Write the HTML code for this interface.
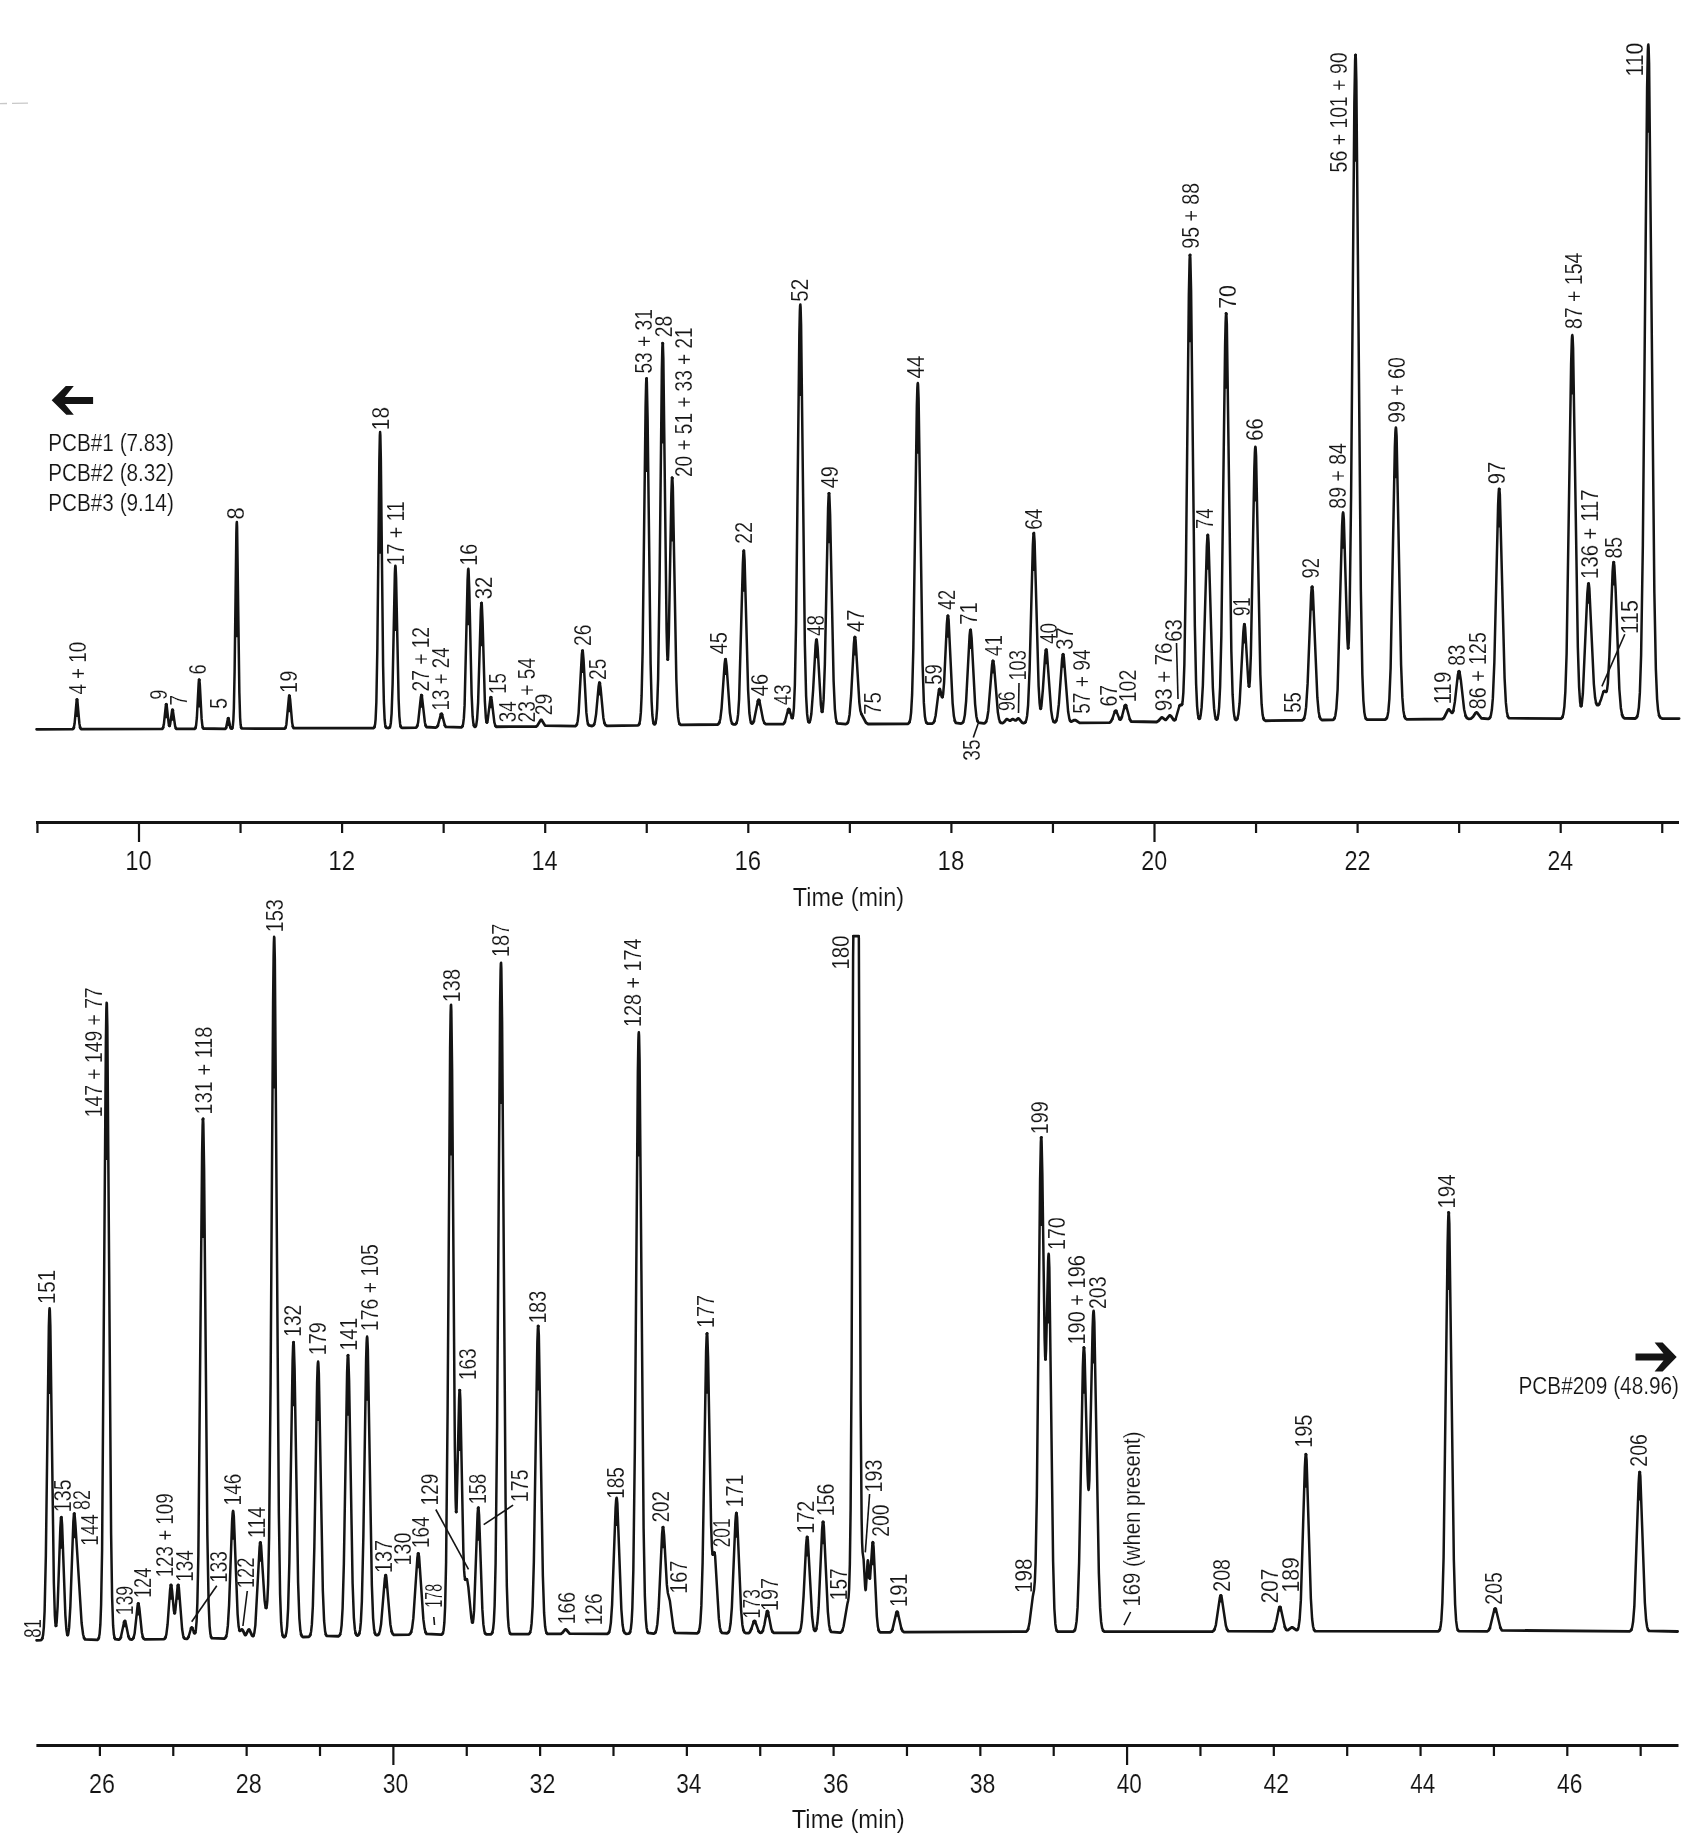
<!DOCTYPE html><html><head><meta charset="utf-8"><style>html,body{margin:0;padding:0;background:#fff;overflow:hidden;width:1703px;height:1836px}svg{display:block;filter:grayscale(1)}text{font-family:"Liberation Sans", sans-serif;fill:#141414;stroke:#fff;stroke-width:0.15px}</style></head><body>
<svg width="1703" height="1836" viewBox="0 0 1703 1836">
<rect width="1703" height="1836" fill="#fff"/>
<path d="M0 103.6 L7 103.5 M12 103.4 L28 103.2" stroke="#c8c8c8" stroke-width="1.3" fill="none"/>
<path d="M36.60 729.30 L72.60 729.12 L73.35 728.60 L73.85 727.54M76.85 699.59 L77.10 699.49M80.10 727.37 L80.60 728.52 L81.35 729.09 L161.85 728.96 L162.60 728.49 L163.10 727.58M166.10 704.37 L166.35 704.12 L166.60 704.71M169.10 725.38 L169.35 725.88 L169.60 725.91M172.35 709.82 L172.60 709.75 L172.85 710.34M175.85 728.16 L176.60 728.84 L194.60 728.84 L195.10 728.48 L195.60 727.54M199.10 679.73 L199.35 679.90M202.85 727.66 L203.35 728.52 L225.10 728.82 L225.60 728.51 L226.10 727.67M228.10 718.29 L228.35 718.11 L228.60 718.52M230.35 727.24 L230.85 728.30 L231.35 728.68 L231.85 728.59 L232.35 727.86M241.10 727.41 L241.60 728.46 L284.35 728.72 L285.10 728.31 L285.60 727.54M289.35 695.62 L289.60 695.90M292.85 726.53 L293.60 728.18 L373.35 728.10 L374.10 727.62 L374.60 726.62M385.60 726.53 L386.10 727.53 L388.60 728.02 L389.35 727.73 L389.85 727.14M400.60 726.23 L401.10 727.28 L402.10 727.89 L415.85 727.66 L416.60 727.13 L417.35 725.70M421.35 695.12 L421.60 695.05 L421.85 695.63M425.60 725.49 L426.35 726.99 L435.85 727.58 L436.85 727.09 L437.85 725.61M440.85 714.23 L441.35 713.61 L441.60 713.68 L442.10 714.60M444.85 725.32 L445.85 726.93 L461.35 727.35 L462.10 726.86 L462.60 725.99M473.85 725.45 L474.35 726.47 L474.85 726.80 L475.35 726.63 L475.85 725.90M481.35 603.29 L481.60 603.07M486.60 722.17 L486.85 722.50 L487.10 722.36M490.60 697.51 L490.85 697.11 L491.10 697.28M495.35 725.74 L496.10 726.73 L536.10 726.49 L537.35 725.65 L540.60 720.11 L541.10 719.81 L541.60 719.93 L545.10 725.61 L575.35 726.08 L576.10 725.60 L576.85 724.35M582.35 650.70 L582.60 650.59M588.10 724.08 L588.85 725.40 L592.10 726.00 L593.35 725.44 L594.10 724.39M599.35 682.71 L599.60 682.65 L599.85 683.18M604.35 722.79 L605.35 724.98 L606.85 725.81 L637.85 725.38 L638.60 724.96 L639.35 723.70M646.35 378.90 L646.60 378.45M653.60 723.29 L654.10 724.19 L654.60 724.38 L655.10 723.96 L655.60 722.76M662.60 343.19 L662.85 343.64M667.60 659.35 L667.85 659.46M672.10 477.73 L672.35 478.06M679.60 723.90 L680.60 724.79 L717.60 724.49 L718.60 723.82 L719.35 722.54M725.35 659.33 L725.60 659.26M732.10 723.37 L733.10 724.30 L734.85 724.48 L735.85 723.95 L736.60 722.77M743.60 551.31 L743.85 550.74M751.10 722.76 L751.60 723.40 L752.10 723.56 L752.85 723.11 L753.85 721.21M757.85 701.19 L758.35 699.96 L758.60 699.72 L758.85 699.75 L759.35 700.58M764.35 722.91 L765.60 724.11 L782.85 724.22 L783.85 723.59 L784.85 721.96M788.10 709.78 L788.60 708.98 L788.85 708.90 L789.35 709.42M791.85 717.82 L792.10 718.16 L792.35 718.21 L792.60 717.91M808.35 721.58 L808.85 722.34 L809.10 722.41 L809.60 722.01M816.35 639.75 L816.60 639.67M821.85 711.50 L822.10 711.90 L822.35 711.67M828.85 493.61 L829.10 493.38M836.60 721.84 L837.35 723.31 L845.85 724.07 L847.10 723.46 L847.85 722.41M854.60 637.62 L854.85 637.02 L855.10 637.26M861.35 713.95 L866.10 722.79 L868.10 723.98 L907.85 723.77 L908.85 723.17 L909.60 721.87M926.35 722.54 L927.35 723.53 L932.10 723.65 L933.35 722.89 L934.35 721.08M939.10 689.74 L939.35 689.17 L939.60 688.96 L939.85 689.10M941.85 696.55 L942.10 697.07 L942.35 697.19 L942.60 696.86M947.85 615.72 L948.10 616.03M954.85 720.82 L955.85 722.77 L961.10 723.56 L962.35 723.00 L963.10 722.06M970.35 629.96 L970.60 629.87M977.35 720.71 L978.35 722.63 L983.85 723.45 L985.10 722.93 L986.10 721.66M992.85 660.90 L993.10 660.85 L993.35 661.36M1000.10 721.94 L1001.10 722.95 L1002.60 723.13 L1004.10 722.14 L1006.35 719.38 L1007.10 719.10 L1009.60 720.66 L1010.35 720.59 L1012.35 719.16 L1013.10 719.17 L1015.10 720.44 L1015.85 720.35 L1018.10 718.44 L1018.85 718.56 L1022.10 722.64 L1023.60 723.16 L1024.85 722.77 L1025.60 721.87M1033.60 533.65 L1033.85 533.13M1040.35 708.33 L1040.60 708.73 L1040.85 708.54M1045.85 650.24 L1046.10 649.65 L1046.35 649.72M1053.35 721.27 L1054.10 722.17 L1054.85 722.34 L1055.60 721.83 L1056.35 720.48M1062.85 654.61 L1063.10 654.30 L1063.35 654.60M1070.10 720.68 L1070.85 721.50 L1071.60 721.57 L1074.35 720.04 L1075.60 720.25 L1079.60 722.83 L1109.60 722.59 L1110.85 721.71 L1112.35 718.88M1114.85 711.47 L1115.35 710.75 L1115.85 710.62 L1116.35 711.09M1119.35 718.91 L1119.85 719.50 L1120.35 719.62 L1120.85 719.23 L1121.85 716.95M1124.60 706.22 L1125.10 705.25 L1125.35 705.04 L1125.60 705.01 L1126.10 705.54M1129.85 719.26 L1131.10 721.48 L1156.60 722.02 L1158.60 720.72 L1161.35 717.61 L1162.10 717.40 L1165.35 719.78 L1166.10 719.74 L1169.35 715.67 L1170.10 715.41 L1170.85 715.85 L1173.60 719.89 L1174.35 720.29 L1174.85 720.15 L1175.60 719.25M1179.35 706.00 L1179.85 705.14 L1180.35 704.87 L1181.35 705.20 L1181.60 705.15 L1182.10 704.32M1189.85 255.31 L1190.10 254.91M1198.60 717.93 L1199.10 718.83 L1199.35 718.90 L1199.85 718.36M1207.60 535.50 L1207.85 535.03M1215.85 718.78 L1216.35 719.50 L1216.60 719.60 L1217.10 719.30 L1217.60 718.22M1226.10 313.47 L1226.35 313.81M1235.10 719.02 L1235.60 719.81 L1236.10 720.06 L1236.60 719.84 L1237.35 718.61M1244.35 624.22 L1244.60 624.46M1248.85 686.18 L1249.10 686.49M1263.35 718.18 L1264.10 719.83 L1265.35 720.73 L1302.10 720.26 L1303.35 719.48 L1304.10 718.25M1311.85 587.14 L1312.10 586.60 L1312.35 587.13M1319.60 716.69 L1320.60 719.02 L1321.85 720.01 L1332.85 719.95 L1333.85 719.28 L1334.60 718.05M1348.10 648.25 L1348.35 647.90M1355.35 55.35 L1355.60 54.88M1365.85 718.46 L1366.85 719.50 L1385.10 719.55 L1386.10 718.99 L1386.85 717.92M1404.35 716.09 L1405.35 718.43 L1406.85 719.40 L1442.35 718.98 L1443.85 718.01 L1447.85 710.06 L1448.60 709.42 L1449.10 709.48 L1451.60 712.77 L1452.10 712.94 L1452.60 712.57 L1453.35 710.74M1458.60 671.66 L1458.85 671.27 L1459.10 671.23 L1459.60 672.23M1465.60 715.71 L1466.85 717.99 L1468.85 718.97 L1471.10 718.60 L1473.10 716.66 L1475.60 712.86 L1476.35 712.41 L1477.10 712.60 L1481.35 718.24 L1488.10 718.95 L1489.35 718.38 L1490.10 717.42M1499.10 488.94 L1499.35 489.11M1507.85 716.35 L1508.85 718.14 L1560.60 718.70 L1561.85 717.93 L1562.60 716.68M1580.85 706.02 L1581.10 706.20 L1581.35 705.87M1588.35 583.71 L1588.60 583.54M1596.10 702.99 L1596.85 704.69 L1597.35 705.15 L1598.10 705.16 L1599.10 704.21M1603.35 691.94 L1603.85 691.22 L1604.35 691.00 L1605.85 691.91 L1606.10 691.89 L1606.60 691.23M1613.60 562.28 L1613.85 562.39M1622.10 714.84 L1623.10 717.21 L1624.60 718.43 L1635.10 718.48 L1636.35 717.73 L1637.10 716.53M1659.10 715.39 L1660.10 717.49 L1662.10 718.53 L1679.10 718.60" fill="none" stroke="#141414" stroke-width="2.80" stroke-linejoin="round" stroke-linecap="round"/><path d="M73.85 727.54 L74.60 723.60 L76.60 700.75 L76.85 699.59M77.10 699.49 L77.35 700.44 L79.35 723.19 L80.10 727.37M163.10 727.58 L163.85 724.30 L165.85 705.46 L166.10 704.37M166.60 704.71 L168.60 722.97 L169.10 725.38M169.60 725.91 L170.10 724.62 L172.10 710.53 L172.35 709.82M172.85 710.34 L175.10 726.03 L175.85 728.16M195.60 727.54 L196.10 725.36 L196.85 717.97 L198.60 684.20 L198.85 681.22 L199.10 679.73M199.35 679.90 L199.85 684.95 L201.60 718.65 L202.35 725.65 L202.85 727.66M226.10 727.67 L227.85 719.03 L228.10 718.29M228.60 718.52 L230.35 727.24M232.35 727.86 L232.85 725.68 L233.35 720.24 L233.85 708.54 L234.60 671.88 L236.35 532.68 L236.60 524.00 L236.85 521.94 L237.10 526.71 L239.35 692.28 L240.10 717.53 L240.60 724.49 L241.10 727.41M285.60 727.54 L286.35 724.73 L288.85 697.79 L289.10 696.27 L289.35 695.62M289.60 695.90 L290.10 699.07 L292.10 722.37 L292.85 726.53M374.60 726.62 L375.10 724.28 L375.60 719.28 L376.35 702.19 L377.35 648.15 L379.35 459.55 L379.85 435.29 L380.10 432.10 L380.35 435.28 L380.85 459.54 L383.10 665.72 L383.85 702.13 L384.60 719.21 L385.10 724.20 L385.60 726.53M389.85 727.14 L390.35 725.79 L390.85 722.97 L391.60 713.54 L392.60 684.26 L394.85 573.62 L395.10 568.03 L395.35 565.67 L395.60 566.68 L396.10 578.37 L398.60 698.69 L399.35 716.04 L400.10 723.96 L400.60 726.23M417.35 725.70 L418.10 722.57 L420.85 697.12 L421.35 695.12M421.85 695.63 L424.85 722.23 L425.60 725.49M437.85 725.61 L440.85 714.23M442.10 714.60 L444.85 725.32M462.60 725.99 L463.10 724.20 L463.85 718.19 L464.60 705.15 L467.60 579.47 L468.10 569.61 L468.35 568.76 L468.60 570.73 L469.35 591.89 L471.60 694.07 L472.60 716.19 L473.35 723.29 L473.85 725.45M475.85 725.90 L476.35 724.30 L477.10 719.02 L478.10 702.56 L480.85 610.03 L481.35 603.29M481.60 603.07 L481.85 605.01 L482.60 622.22 L484.85 701.19 L485.85 717.80 L486.35 721.32 L486.60 722.17M487.10 722.36 L487.60 720.82 L490.35 698.46 L490.60 697.51M491.10 697.28 L491.60 699.26 L494.35 722.28 L495.35 725.74M576.85 724.35 L577.60 721.48 L578.60 713.08 L581.85 654.10 L582.35 650.70M582.60 650.59 L582.85 651.55 L583.60 660.32 L586.35 712.38 L587.35 721.08 L588.10 724.08M594.10 724.39 L594.85 722.16 L596.10 714.08 L598.60 686.36 L599.10 683.37 L599.35 682.71M599.85 683.18 L600.60 688.06 L603.35 717.64 L604.35 722.79M639.35 723.70 L640.10 720.32 L640.85 712.38 L641.60 695.92 L642.60 652.53 L645.60 405.81 L646.10 383.76 L646.35 378.90M646.60 378.45 L646.85 382.43 L647.60 418.64 L650.60 663.48 L651.60 701.29 L652.35 714.99 L653.10 721.34 L653.60 723.29M655.60 722.76 L656.35 718.47 L657.10 708.58 L658.10 679.01 L659.60 578.71 L661.85 369.44 L662.35 347.47 L662.60 343.19M662.85 343.64 L663.35 358.50 L666.60 629.99 L667.10 650.53 L667.35 656.40 L667.60 659.35M667.85 659.46 L668.10 656.82 L668.85 634.14 L671.35 494.29 L671.85 480.42 L672.10 477.73M672.35 478.06 L672.85 487.59 L676.35 679.45 L677.35 706.76 L678.10 716.95 L678.85 721.83 L679.60 723.90M719.35 722.54 L720.35 718.69 L721.60 708.03 L724.60 663.80 L725.10 660.14 L725.35 659.33M725.60 659.26 L725.85 659.92 L726.60 665.95 L729.85 712.73 L731.10 720.77 L732.10 723.37M736.60 722.77 L737.35 720.05 L738.10 714.45 L739.10 699.37 L742.85 563.88 L743.35 553.75 L743.60 551.31M743.85 550.74 L744.10 552.06 L744.60 560.15 L748.10 690.00 L749.35 712.78 L750.35 720.43 L751.10 722.76M753.85 721.21 L757.85 701.19M759.35 700.58 L763.10 719.78 L764.35 722.91M784.85 721.96 L788.10 709.78M789.35 709.42 L791.85 717.82M792.60 717.91 L793.10 716.01 L793.85 708.58 L794.85 685.18 L796.10 621.95 L799.35 333.65 L799.85 311.15 L800.10 305.74 L800.35 304.48 L800.60 307.41 L801.10 325.36 L804.85 644.20 L806.10 695.87 L807.10 713.90 L807.85 719.75 L808.35 721.58M809.60 722.01 L810.35 720.02 L811.35 714.02 L813.10 690.51 L815.60 644.88 L816.10 640.67 L816.35 639.75M816.60 639.67 L816.85 640.42 L817.60 647.35 L820.85 704.24 L821.60 710.51 L821.85 711.50M822.35 711.67 L822.85 709.19 L823.60 699.64 L824.85 664.64 L828.10 507.52 L828.60 496.10 L828.85 493.61M829.10 493.38 L829.35 495.42 L830.10 514.25 L833.60 680.79 L834.85 708.76 L835.85 718.57 L836.60 721.84M847.85 722.41 L848.60 720.27 L849.60 714.46 L851.10 695.95 L853.85 644.20 L854.35 639.05 L854.60 637.62M855.10 637.26 L855.60 640.23 L859.35 702.60 L860.35 710.54 L861.35 713.95M909.60 721.87 L910.35 718.89 L911.10 712.62 L912.10 694.94 L913.35 648.00 L916.85 405.47 L917.35 388.10 L917.60 383.93 L917.85 382.96 L918.10 385.22 L918.60 399.06 L922.60 664.49 L923.85 702.65 L924.85 716.02 L925.60 720.50 L926.35 722.54M934.35 721.08 L935.60 715.76 L938.60 691.93 L939.10 689.74M939.85 689.10 L940.60 691.27 L941.85 696.55M942.60 696.86 L943.10 694.54 L944.10 682.54 L946.85 624.10 L947.35 618.06 L947.60 616.40 L947.85 615.72M948.10 616.03 L948.60 619.62 L952.60 703.06 L953.85 716.10 L954.85 720.82M963.10 722.06 L963.85 720.14 L964.85 714.86 L966.10 701.31 L969.60 635.27 L970.10 630.91 L970.35 629.96M970.60 629.87 L970.85 630.65 L971.60 637.84 L975.10 704.06 L976.35 716.19 L977.35 720.71M986.10 721.66 L987.10 718.69 L988.35 710.72 L992.10 664.42 L992.60 661.53 L992.85 660.90M993.35 661.36 L994.10 666.12 L997.85 712.34 L999.10 719.41 L1000.10 721.94M1025.60 721.87 L1026.35 719.89 L1027.10 715.88 L1028.10 705.07 L1029.60 670.01 L1032.85 545.09 L1033.35 535.86 L1033.60 533.65M1033.85 533.13 L1034.10 534.33 L1034.60 541.67 L1038.60 685.99 L1039.60 703.22 L1040.10 707.30 L1040.35 708.33M1040.85 708.54 L1041.35 706.53 L1042.85 689.82 L1045.10 655.71 L1045.60 651.47 L1045.85 650.24M1046.35 649.72 L1046.85 651.80 L1051.10 710.07 L1052.35 718.33 L1053.35 721.27M1056.35 720.48 L1057.35 716.65 L1058.85 704.16 L1062.10 659.04 L1062.60 655.52 L1062.85 654.61M1063.35 654.60 L1063.85 657.00 L1068.10 711.50 L1069.35 718.71 L1070.10 720.68M1112.35 718.88 L1114.85 711.47M1116.35 711.09 L1119.35 718.91M1121.85 716.95 L1124.60 706.22M1126.10 705.54 L1129.85 719.26M1175.60 719.25 L1179.35 706.00M1182.10 704.32 L1182.60 701.82 L1183.35 692.76 L1184.35 665.04 L1185.85 575.04 L1188.85 294.47 L1189.60 259.62 L1189.85 255.31M1190.10 254.91 L1190.35 258.44 L1191.10 291.20 L1194.85 626.14 L1196.10 683.76 L1197.10 706.09 L1197.85 714.20 L1198.60 717.93M1199.85 718.36 L1200.60 715.69 L1201.60 707.43 L1202.85 685.49 L1206.85 545.95 L1207.35 537.52 L1207.60 535.50M1207.85 535.03 L1208.10 536.12 L1208.60 542.82 L1212.85 687.72 L1214.10 708.44 L1215.10 716.17 L1215.85 718.78M1217.60 718.22 L1218.35 714.59 L1219.10 707.12 L1220.10 687.00 L1221.35 635.88 L1225.10 344.73 L1225.60 322.85 L1225.85 316.51 L1226.10 313.47M1226.35 313.81 L1226.85 324.49 L1231.35 651.22 L1232.60 694.45 L1233.60 710.56 L1234.35 716.30 L1235.10 719.02M1237.35 718.61 L1238.35 714.55 L1239.60 703.23 L1243.35 631.75 L1243.85 626.35 L1244.10 624.85 L1244.35 624.22M1244.60 624.46 L1245.10 627.52 L1248.35 682.72 L1248.85 686.18M1249.10 686.49 L1249.35 685.76 L1249.85 680.81 L1250.85 655.54 L1254.35 467.69 L1254.85 452.56 L1255.10 448.38 L1255.35 446.65 L1255.60 447.40 L1256.10 456.20 L1260.35 674.77 L1261.60 704.20 L1262.60 714.63 L1263.35 718.18M1304.10 718.25 L1305.10 714.67 L1306.10 707.13 L1307.60 683.89 L1311.10 594.92 L1311.60 588.73 L1311.85 587.14M1312.35 587.13 L1312.85 591.33 L1317.35 697.48 L1318.60 711.42 L1319.60 716.69M1334.60 718.05 L1335.35 715.55 L1336.35 708.57 L1337.60 689.56 L1342.10 525.22 L1342.60 515.72 L1342.85 513.25 L1343.10 512.40 L1343.35 513.17 L1343.85 519.47 L1347.35 638.91 L1347.85 646.77 L1348.10 648.25M1348.35 647.90 L1348.85 641.22 L1349.60 614.61 L1351.10 496.18 L1354.35 102.87 L1355.10 60.55 L1355.35 55.35M1355.60 54.88 L1355.85 59.14 L1356.35 81.41 L1360.85 590.20 L1362.35 674.33 L1363.35 700.24 L1364.35 712.35 L1365.10 716.49 L1365.85 718.46M1386.85 717.92 L1387.60 715.65 L1388.35 711.18 L1389.35 699.24 L1390.60 668.44 L1394.85 446.80 L1395.35 432.93 L1395.60 429.13 L1395.85 427.55 L1396.10 428.22 L1396.60 436.23 L1401.10 664.90 L1402.35 697.41 L1403.35 710.22 L1404.35 716.09M1453.35 710.74 L1454.85 701.88 L1457.85 674.88 L1458.60 671.66M1459.60 672.23 L1460.85 680.16 L1464.10 709.19 L1465.60 715.71M1490.10 717.42 L1490.85 715.44 L1491.85 709.81 L1492.85 698.13 L1494.35 662.20 L1498.10 504.78 L1498.60 493.68 L1498.85 490.47 L1499.10 488.94M1499.35 489.11 L1499.85 494.51 L1504.60 678.37 L1505.85 702.43 L1506.85 711.95 L1507.85 716.35M1562.60 716.68 L1563.35 714.11 L1564.35 706.81 L1565.35 691.58 L1566.60 654.01 L1571.10 364.09 L1571.85 339.23 L1572.10 335.84 L1572.35 335.05 L1572.60 336.88 L1573.10 348.21 L1577.85 647.40 L1579.10 687.11 L1580.10 702.06 L1580.60 705.29 L1580.85 706.02M1581.35 705.87 L1581.85 703.72 L1582.85 693.73 L1587.35 593.02 L1588.10 584.77 L1588.35 583.71M1588.60 583.54 L1588.85 584.26 L1589.35 588.30 L1593.85 684.00 L1595.10 697.77 L1596.10 702.99M1599.10 704.21 L1601.10 699.18 L1603.35 691.94M1606.60 691.23 L1607.10 689.36 L1607.85 683.37 L1609.35 657.10 L1612.60 571.69 L1613.10 565.08 L1613.35 563.18 L1613.60 562.28M1613.85 562.39 L1614.35 565.64 L1615.60 589.15 L1619.35 689.26 L1620.85 707.94 L1622.10 714.84M1637.10 716.53 L1637.85 714.13 L1638.85 707.33 L1639.85 692.91 L1641.10 655.64 L1642.85 545.24 L1647.10 87.45 L1647.85 50.71 L1648.10 45.73 L1648.35 44.58 L1648.60 47.27 L1649.10 63.93 L1654.35 592.13 L1655.85 668.86 L1657.10 699.09 L1658.10 710.29 L1659.10 715.39" fill="none" stroke="#141414" stroke-width="2.50" stroke-linejoin="round" stroke-linecap="round"/>
<path d="M36.60 1640.30 L40.85 1640.09 L41.60 1639.63 L42.35 1638.30M55.85 1625.85 L56.10 1625.77M61.10 1517.77 L61.35 1517.33M67.35 1634.79 L67.60 1635.07 L67.85 1634.94M74.10 1513.78 L74.35 1513.58M84.10 1637.96 L85.10 1639.41 L97.35 1639.82 L98.10 1639.33 L98.85 1637.88M114.60 1637.88 L115.35 1639.22 L118.60 1639.69 L119.85 1639.04 L120.85 1637.35M124.10 1622.08 L124.60 1621.00 L124.85 1620.91 L125.10 1621.12M128.35 1636.10 L129.35 1638.46 L130.35 1639.35 L131.85 1639.49 L132.85 1638.90 L133.60 1637.59M138.10 1603.59 L138.35 1603.41 L138.60 1603.82M142.85 1637.09 L143.60 1638.61 L144.85 1639.41 L163.85 1639.17 L164.85 1638.53 L165.60 1637.19M170.85 1585.07 L171.10 1584.93 L171.35 1585.50M174.35 1612.98 L174.60 1613.30 L174.85 1612.96M177.85 1585.50 L178.10 1584.93 L178.35 1585.07M183.85 1637.54 L184.85 1638.73 L186.60 1638.95 L187.60 1638.40 L188.60 1636.74M191.10 1628.16 L191.60 1627.44 L191.85 1627.41 L192.35 1627.98M194.10 1632.76 L194.60 1633.39 L194.85 1633.37 L195.35 1632.43M202.85 1119.40 L203.10 1118.84M211.10 1636.92 L211.85 1638.21 L224.35 1638.53 L225.35 1637.86 L226.10 1636.53M239.35 1630.12 L239.85 1630.87 L240.35 1630.74 L241.60 1629.46 L242.10 1629.43 L242.85 1630.32 L244.85 1634.68 L245.35 1635.09 L245.85 1634.96 L248.35 1629.89 L248.85 1629.43 L249.35 1629.55 L252.10 1635.56 L252.60 1636.08 L253.10 1636.07 L253.60 1635.40M260.10 1542.95 L260.35 1542.35 L260.60 1542.65M265.85 1607.84 L266.10 1608.06 L266.35 1607.80M282.60 1635.24 L283.35 1636.78 L284.10 1637.17 L284.85 1636.85 L285.60 1635.61M293.35 1342.53 L293.60 1342.23M301.10 1634.36 L301.85 1636.15 L302.85 1636.99 L308.60 1636.92 L309.60 1636.22 L310.35 1634.76M325.85 1634.40 L326.60 1635.83 L338.35 1636.26 L339.35 1635.66 L340.10 1634.37M347.85 1355.60 L348.10 1355.32M355.60 1633.10 L356.35 1634.85 L357.10 1635.48 L357.85 1635.50 L358.60 1634.92 L359.35 1633.30M374.85 1632.95 L375.60 1634.54 L376.60 1635.21 L377.85 1635.01 L378.85 1633.98M385.35 1575.69 L385.60 1575.15 L385.85 1575.20M391.60 1631.29 L392.60 1633.74 L393.85 1634.82 L408.85 1634.70 L410.10 1633.89 L411.10 1632.08M418.10 1553.61 L418.35 1553.41 L418.60 1553.87M425.60 1632.27 L426.60 1633.92 L441.35 1634.66 L442.10 1634.29 L442.85 1633.19M456.10 1511.70 L456.35 1511.99M459.60 1390.21 L459.85 1390.33M465.10 1579.28 L465.35 1579.70 L465.60 1579.75 L466.35 1579.16 L466.60 1579.13 L466.85 1579.33M472.10 1622.13 L472.35 1622.62 L472.60 1622.63 L472.85 1622.13M478.10 1508.09 L478.35 1507.63M485.10 1633.23 L486.10 1634.27 L490.60 1634.42 L491.60 1633.83 L492.35 1632.47M510.10 1633.35 L511.10 1634.22 L528.35 1634.22 L529.35 1633.63 L530.10 1632.37M538.10 1325.94 L538.35 1326.23M546.60 1632.93 L547.60 1633.96 L560.85 1633.97 L562.60 1632.69 L564.85 1629.73 L565.60 1629.40 L566.35 1629.73 L569.60 1633.57 L607.35 1633.82 L608.35 1633.24 L609.10 1632.10M623.60 1630.62 L624.60 1632.88 L626.10 1633.79 L628.60 1633.70 L629.35 1633.21 L630.10 1631.93M647.35 1631.42 L648.10 1632.96 L653.60 1633.68 L654.85 1633.09 L655.60 1632.07M662.85 1527.34 L663.10 1527.13M674.35 1631.33 L675.35 1632.96 L697.10 1633.41 L698.10 1632.80 L698.85 1631.50M706.85 1333.86 L707.10 1333.48M712.60 1554.09 L712.85 1554.71 L713.10 1554.67 L714.10 1552.48 L714.35 1552.45 L714.60 1552.94M720.85 1631.32 L721.85 1632.86 L727.10 1633.25 L728.10 1632.72 L728.85 1631.69M736.35 1513.02 L736.60 1513.36M743.35 1630.02 L744.35 1632.25 L745.85 1633.18 L748.60 1633.02 L749.85 1632.07 L751.35 1628.97M753.60 1621.84 L754.10 1621.01 L754.60 1620.81 L755.10 1621.27M758.60 1631.18 L759.85 1632.62 L760.85 1632.85 L761.85 1632.37 L762.85 1630.78M767.10 1611.21 L767.35 1611.01 L767.60 1611.09 L768.10 1612.13M772.35 1631.55 L773.60 1632.81 L798.10 1632.82 L799.10 1632.26 L799.85 1631.22M807.10 1536.97 L807.35 1537.06M814.10 1629.75 L814.60 1630.67 L815.10 1630.95 L815.60 1630.60 L816.35 1628.79M822.85 1522.21 L823.10 1521.70 L823.35 1522.21M830.10 1629.80 L831.10 1631.84 L840.10 1632.64 L841.35 1631.99 L842.35 1630.49M853.35 936.20 L858.60 936.20M869.60 1578.10 L869.85 1578.51M872.60 1542.83 L872.85 1542.22 L873.10 1542.75M878.60 1630.07 L879.35 1631.66 L880.60 1632.44 L890.10 1632.29 L891.35 1631.51 L892.35 1629.87M896.35 1612.65 L896.85 1611.72 L897.10 1611.60 L897.35 1611.72 L897.85 1612.65M901.35 1628.47 L902.60 1631.15 L904.10 1632.21 L1026.10 1631.64 L1027.10 1630.96 L1028.10 1629.10M1041.10 1137.71 L1041.35 1137.42M1045.35 1359.26 L1045.60 1359.29M1056.85 1630.75 L1057.85 1631.63 L1073.10 1631.64 L1074.10 1631.08 L1074.85 1630.01M1083.85 1347.50 L1084.10 1347.83M1103.10 1630.58 L1104.35 1631.57 L1212.35 1631.51 L1213.60 1630.75 L1214.60 1629.20M1220.35 1595.90 L1220.60 1595.50 L1220.85 1595.41 L1221.10 1595.62M1227.10 1629.41 L1228.35 1631.05 L1271.85 1631.44 L1273.10 1630.68 L1274.35 1628.70M1279.35 1607.31 L1279.85 1606.80 L1280.10 1606.87 L1280.60 1607.62M1284.85 1626.92 L1286.10 1629.52 L1286.85 1630.10 L1287.85 1630.06 L1291.35 1627.52 L1292.60 1627.50 L1296.35 1630.18 L1297.10 1630.08 L1297.85 1629.15M1305.85 1454.23 L1306.10 1454.68M1314.10 1629.89 L1315.10 1631.15 L1438.10 1631.41 L1439.10 1630.74 L1439.85 1629.37M1448.60 1212.48 L1448.85 1212.83M1457.85 1630.04 L1458.85 1631.19 L1487.10 1631.31 L1488.60 1630.30 L1489.85 1628.10M1494.35 1609.48 L1494.85 1608.59 L1495.10 1608.42 L1495.35 1608.43 L1495.85 1609.04M1500.35 1627.58 L1501.85 1630.35 L1629.60 1631.30 L1630.60 1630.75 L1631.35 1629.72M1639.60 1472.10 L1639.85 1472.23M1648.10 1629.81 L1649.10 1630.97 L1677.60 1631.50" fill="none" stroke="#141414" stroke-width="2.80" stroke-linejoin="round" stroke-linecap="round"/><path d="M42.35 1638.30 L43.10 1634.87 L43.85 1627.05 L44.60 1611.26 L45.85 1556.00 L48.85 1325.93 L49.35 1310.22 L49.60 1308.20 L49.85 1310.22 L50.35 1325.92 L53.85 1582.60 L54.85 1615.41 L55.35 1622.96 L55.60 1624.94 L55.85 1625.85M56.10 1625.77 L56.60 1622.82 L57.60 1606.75 L60.35 1527.55 L60.85 1519.68 L61.10 1517.77M61.35 1517.33 L61.60 1518.36 L62.10 1524.65 L65.35 1614.82 L66.35 1629.21 L67.10 1634.09 L67.35 1634.79M67.85 1634.94 L68.35 1633.42 L69.10 1627.64 L70.35 1606.36 L73.35 1521.65 L73.85 1515.20 L74.10 1513.78M74.35 1513.58 L74.60 1514.54 L75.35 1523.25 L81.60 1623.01 L83.10 1634.50 L84.10 1637.96M98.85 1637.88 L99.60 1634.00 L100.35 1624.72 L101.10 1604.98 L102.10 1550.00 L105.85 1043.37 L106.35 1009.29 L106.60 1002.69 L106.85 1003.43 L107.35 1026.55 L111.10 1533.59 L112.10 1596.97 L113.10 1625.47 L113.85 1634.24 L114.60 1637.88M120.85 1637.35 L124.10 1622.08M125.10 1621.12 L125.85 1623.43 L128.35 1636.10M133.60 1637.59 L134.60 1633.51 L137.60 1605.63 L138.10 1603.59M138.60 1603.82 L139.35 1608.21 L141.85 1632.50 L142.85 1637.09M165.60 1637.19 L166.35 1634.38 L167.60 1624.23 L170.10 1589.70 L170.60 1585.94 L170.85 1585.07M171.35 1585.50 L172.10 1590.96 L173.85 1610.42 L174.35 1612.98M174.85 1612.96 L175.35 1610.39 L177.60 1586.74 L177.85 1585.50M178.35 1585.07 L178.85 1587.47 L182.10 1629.01 L183.10 1635.30 L183.85 1637.54M188.60 1636.74 L191.10 1628.16M192.35 1627.98 L194.10 1632.76M195.35 1632.43 L195.85 1629.89 L196.60 1621.32 L197.35 1603.39 L198.35 1555.65 L202.10 1153.04 L202.60 1125.44 L202.85 1119.40M203.10 1118.84 L203.35 1123.79 L204.10 1169.27 L207.35 1534.70 L208.60 1602.70 L209.60 1626.06 L210.35 1633.62 L211.10 1636.92M226.10 1636.53 L226.85 1633.70 L227.85 1625.69 L229.10 1604.75 L232.10 1521.07 L232.60 1513.52 L232.85 1511.56 L233.10 1510.90 L233.35 1511.56 L233.85 1516.71 L237.60 1614.10 L238.60 1626.31 L239.35 1630.12M253.60 1635.40 L254.35 1632.84 L255.35 1625.35 L259.60 1546.80 L260.10 1542.95M260.60 1542.65 L261.10 1545.79 L264.60 1600.56 L265.35 1606.15 L265.85 1607.84M266.35 1607.80 L266.85 1605.63 L267.35 1600.53 L268.10 1584.45 L269.10 1537.32 L270.60 1382.67 L273.10 1000.29 L273.60 955.90 L273.85 942.98 L274.10 936.82 L274.35 937.61 L274.85 959.79 L278.85 1513.48 L280.10 1594.50 L281.10 1622.22 L281.85 1631.25 L282.60 1635.24M285.60 1635.61 L286.35 1632.63 L287.10 1626.36 L288.10 1608.73 L289.35 1562.75 L292.60 1360.50 L293.10 1345.76 L293.35 1342.53M293.60 1342.23 L293.85 1344.86 L294.60 1369.15 L298.10 1582.71 L299.35 1618.06 L300.35 1630.32 L301.10 1634.36M310.35 1634.76 L311.10 1631.46 L311.85 1624.69 L312.85 1606.20 L314.35 1546.89 L317.10 1382.64 L317.60 1367.02 L317.85 1362.97 L318.10 1361.60 L318.35 1362.96 L318.85 1373.61 L322.85 1590.93 L324.10 1620.99 L325.10 1631.13 L325.85 1634.40M340.10 1634.37 L340.85 1631.44 L341.60 1625.33 L342.60 1608.29 L343.85 1564.25 L347.10 1372.55 L347.60 1358.64 L347.85 1355.60M348.10 1355.32 L348.35 1357.80 L349.10 1380.71 L352.60 1583.32 L353.85 1617.28 L354.85 1629.16 L355.60 1633.10M359.35 1633.30 L360.10 1629.63 L360.85 1622.14 L361.85 1601.79 L363.35 1537.07 L366.10 1359.29 L366.60 1342.45 L366.85 1338.08 L367.10 1336.60 L367.35 1338.06 L367.85 1349.55 L371.85 1585.10 L373.10 1618.09 L374.10 1629.31 L374.85 1632.95M378.85 1633.98 L379.85 1631.37 L381.10 1624.01 L384.85 1578.44 L385.35 1575.69M385.85 1575.20 L386.35 1577.05 L390.35 1624.21 L391.60 1631.29M411.10 1632.08 L412.10 1628.13 L413.35 1618.19 L417.35 1558.02 L417.85 1554.46 L418.10 1553.61M418.60 1553.87 L419.10 1556.70 L423.35 1619.19 L424.60 1628.60 L425.60 1632.27M442.85 1633.19 L443.60 1630.20 L444.35 1622.95 L445.10 1607.19 L446.10 1561.93 L447.60 1411.71 L450.10 1048.54 L450.60 1013.25 L450.85 1005.50 L451.10 1004.75 L451.35 1011.03 L452.10 1068.69 L454.85 1447.85 L455.60 1499.11 L455.85 1507.49 L456.10 1511.70M456.35 1511.99 L456.60 1508.72 L459.10 1398.71 L459.35 1393.05 L459.60 1390.21M459.85 1390.33 L460.35 1399.34 L463.35 1550.70 L464.10 1570.14 L464.60 1576.57 L465.10 1579.28M466.85 1579.33 L467.35 1580.63 L468.35 1587.18 L471.35 1618.30 L472.10 1622.13M472.85 1622.13 L473.35 1619.36 L474.10 1610.13 L477.60 1513.53 L478.10 1508.09M478.35 1507.63 L478.60 1508.72 L479.10 1515.32 L482.35 1609.14 L483.35 1624.16 L484.35 1631.08 L485.10 1633.23M492.35 1632.47 L493.10 1629.10 L493.85 1621.52 L494.60 1605.99 L495.60 1563.59 L497.10 1426.48 L500.10 1002.91 L500.60 970.45 L500.85 963.37 L501.10 962.72 L501.35 968.52 L502.10 1022.09 L505.60 1503.00 L506.85 1586.48 L507.85 1616.46 L508.60 1626.67 L509.35 1631.38 L510.10 1633.35M530.10 1632.37 L530.85 1629.48 L531.60 1623.44 L532.60 1606.49 L533.85 1562.01 L537.35 1342.33 L537.85 1328.59 L538.10 1325.94M538.35 1326.23 L538.85 1335.53 L542.85 1575.50 L544.10 1612.92 L545.10 1626.30 L545.85 1630.84 L546.60 1632.93M609.10 1632.10 L609.85 1629.69 L610.85 1622.86 L612.10 1604.59 L615.60 1507.64 L616.10 1500.26 L616.35 1498.34 L616.60 1497.70 L616.85 1498.34 L617.35 1503.38 L621.35 1609.27 L622.60 1625.03 L623.60 1630.62M630.10 1631.93 L630.85 1628.81 L631.60 1621.87 L632.35 1607.83 L633.35 1569.89 L634.85 1448.43 L637.85 1071.71 L638.35 1041.23 L638.60 1033.91 L638.85 1032.21 L639.10 1036.17 L639.60 1060.46 L643.60 1528.03 L644.85 1595.81 L645.85 1619.69 L646.60 1627.74 L647.35 1631.42M655.60 1632.07 L656.35 1629.97 L657.35 1624.14 L658.60 1608.97 L662.10 1533.62 L662.60 1528.51 L662.85 1527.34M663.10 1527.13 L663.35 1527.88 L664.10 1535.36 L666.85 1584.66 L667.85 1593.02 L669.85 1600.71 L673.35 1627.59 L674.35 1631.33M698.85 1631.50 L699.60 1628.56 L700.35 1622.54 L701.35 1605.89 L702.60 1562.85 L706.10 1351.11 L706.60 1336.99 L706.85 1333.86M707.10 1333.48 L707.35 1335.84 L708.10 1358.22 L711.10 1525.41 L711.85 1546.07 L712.35 1552.58 L712.60 1554.09M714.60 1552.94 L715.10 1555.80 L718.85 1618.39 L719.85 1627.21 L720.85 1631.32M728.85 1631.69 L729.60 1629.55 L730.60 1623.53 L731.85 1607.55 L735.35 1522.47 L735.85 1515.68 L736.10 1513.80 L736.35 1513.02M736.60 1513.36 L737.10 1517.30 L741.10 1610.03 L742.35 1624.68 L743.35 1630.02M751.35 1628.97 L753.60 1621.84M755.10 1621.27 L758.60 1631.18M762.85 1630.78 L764.35 1624.98 L766.60 1612.47 L767.10 1611.21M768.10 1612.13 L771.35 1628.97 L772.35 1631.55M799.85 1631.22 L800.85 1628.06 L801.85 1621.29 L803.60 1595.93 L806.10 1545.08 L806.60 1539.41 L806.85 1537.76 L807.10 1536.97M807.35 1537.06 L807.85 1539.83 L812.10 1616.48 L813.35 1626.88 L814.10 1629.75M816.35 1628.79 L817.35 1623.02 L818.60 1607.71 L822.10 1529.56 L822.60 1523.72 L822.85 1522.21M823.35 1522.21 L823.85 1526.19 L827.85 1611.59 L829.10 1624.92 L830.10 1629.80M842.35 1630.49 L843.60 1626.23 L847.35 1603.99 L848.10 1600.70 L848.60 1596.79 L849.10 1589.21 L849.85 1564.20 L850.60 1510.37 L851.60 1366.30 L853.10 956.58 L853.35 936.20M858.60 936.20 L858.85 938.07 L860.60 1400.41 L861.60 1517.81 L862.10 1542.45 L862.60 1552.37 L863.60 1559.44 L865.10 1586.48 L865.35 1589.14 L865.60 1590.15 L865.85 1589.41 L867.60 1561.39 L867.85 1560.33 L868.10 1560.99 L869.35 1576.38 L869.60 1578.10M869.85 1578.51 L870.10 1577.56 L872.35 1544.51 L872.60 1542.83M873.10 1542.75 L873.60 1547.19 L876.85 1616.36 L877.85 1626.51 L878.60 1630.07M892.35 1629.87 L896.35 1612.65M897.85 1612.65 L901.35 1628.47M1028.10 1629.10 L1029.35 1623.58 L1032.85 1596.15 L1034.10 1589.50 L1034.85 1580.81 L1035.60 1562.28 L1036.85 1495.84 L1040.10 1179.09 L1040.85 1142.14 L1041.10 1137.71M1041.35 1137.42 L1041.60 1141.21 L1042.35 1174.38 L1044.60 1338.59 L1045.10 1355.79 L1045.35 1359.26M1045.60 1359.29 L1046.10 1349.74 L1048.10 1261.59 L1048.35 1256.09 L1048.60 1253.77 L1048.85 1254.92 L1049.35 1268.04 L1053.10 1561.35 L1054.35 1608.46 L1055.35 1623.95 L1056.10 1628.74 L1056.85 1630.75M1074.85 1630.01 L1075.60 1627.75 L1076.60 1621.14 L1077.60 1607.14 L1079.10 1563.08 L1082.85 1366.70 L1083.35 1353.11 L1083.60 1349.27 L1083.85 1347.50M1084.10 1347.83 L1084.60 1354.58 L1087.60 1474.53 L1088.10 1486.00 L1088.35 1488.96 L1088.60 1489.92 L1088.85 1488.83 L1089.35 1480.53 L1092.60 1328.03 L1093.10 1314.99 L1093.35 1311.73 L1093.60 1310.80 L1093.85 1312.25 L1094.35 1322.19 L1098.85 1572.87 L1100.10 1607.90 L1101.10 1621.70 L1102.10 1628.04 L1103.10 1630.58M1214.60 1629.20 L1215.85 1625.05 L1219.85 1597.59 L1220.35 1595.90M1221.10 1595.62 L1221.60 1596.97 L1225.85 1625.50 L1227.10 1629.41M1274.35 1628.70 L1276.35 1621.20 L1278.85 1608.61 L1279.35 1607.31M1280.60 1607.62 L1284.85 1626.92M1297.85 1629.15 L1298.60 1626.78 L1299.60 1619.72 L1300.85 1600.40 L1304.85 1467.03 L1305.35 1457.82 L1305.60 1455.28 L1305.85 1454.23M1306.10 1454.68 L1306.60 1460.02 L1310.85 1598.21 L1312.10 1618.74 L1313.10 1626.50 L1314.10 1629.89M1439.85 1629.37 L1440.60 1626.33 L1441.35 1620.16 L1442.35 1603.04 L1443.60 1557.45 L1447.60 1244.68 L1448.10 1222.14 L1448.35 1215.61 L1448.60 1212.48M1448.85 1212.83 L1449.35 1223.84 L1453.85 1559.94 L1455.10 1604.22 L1456.10 1620.70 L1457.10 1627.81 L1457.85 1630.04M1489.85 1628.10 L1494.35 1609.48M1495.85 1609.04 L1500.35 1627.58M1631.35 1629.72 L1632.10 1627.63 L1633.10 1621.82 L1634.35 1606.17 L1638.60 1483.93 L1639.10 1475.65 L1639.35 1473.25 L1639.60 1472.10M1639.85 1472.23 L1640.35 1476.27 L1644.85 1602.50 L1646.10 1620.04 L1647.10 1626.79 L1648.10 1629.81" fill="none" stroke="#141414" stroke-width="2.50" stroke-linejoin="round" stroke-linecap="round"/>
<path d="M75.24 716.99 L75.60 712.31 L76.10 705.63 L76.60 700.75 L77.10 699.49 L77.60 702.35 L78.10 708.21 L78.60 715.01 L78.76 716.99 Z" fill="#141414"/>
<path d="M164.55 718.37 L164.85 715.10 L165.35 709.61 L165.85 705.46 L166.35 704.12 L166.85 706.10 L167.35 710.64 L167.85 716.15 L168.06 718.37 Z" fill="#141414"/>
<path d="M170.73 720.75 L171.10 717.73 L171.60 713.56 L172.10 710.53 L172.60 709.75 L173.10 711.52 L173.60 715.18 L174.10 719.48 L174.26 720.75 Z" fill="#141414"/>
<path d="M197.45 707.48 L197.85 698.89 L198.35 688.40 L198.85 681.22 L199.35 679.90 L199.85 684.95 L200.35 694.50 L200.85 705.41 L200.95 707.48 Z" fill="#141414"/>
<path d="M226.49 726.36 L226.85 724.66 L227.35 721.67 L227.85 719.03 L228.35 718.11 L228.85 719.46 L229.35 722.28 L229.85 725.19 L230.10 726.36 L230.10 726.36 Z" fill="#141414"/>
<path d="M235.05 637.19 L235.35 610.63 L235.85 566.07 L236.35 532.68 L236.85 521.94 L237.35 537.84 L237.85 574.51 L238.35 619.71 L238.55 637.19 Z" fill="#141414"/>
<path d="M287.63 712.37 L288.10 706.11 L288.60 700.06 L289.10 696.27 L289.60 695.90 L290.10 699.07 L290.60 704.79 L291.10 711.48 L291.17 712.37 Z" fill="#141414"/>
<path d="M378.35 553.85 L378.85 502.22 L379.35 459.55 L379.85 435.29 L380.35 435.28 L380.85 459.54 L381.35 502.20 L381.85 553.84 L381.85 553.85 Z" fill="#141414"/>
<path d="M393.65 630.92 L394.10 605.59 L394.60 582.09 L395.10 568.03 L395.60 566.68 L396.10 578.37 L396.60 600.35 L397.10 627.83 L397.15 630.92 Z" fill="#141414"/>
<path d="M419.73 707.80 L420.10 703.75 L420.60 698.95 L421.10 695.82 L421.60 695.05 L422.10 696.81 L422.60 700.70 L423.10 705.91 L423.27 707.80 Z" fill="#141414"/>
<path d="M439.65 718.86 L440.10 716.79 L440.60 714.91 L441.10 713.79 L441.60 713.68 L442.10 714.60 L442.60 716.35 L443.10 718.57 L443.16 718.86 Z" fill="#141414"/>
<path d="M466.55 625.26 L466.85 610.00 L467.35 587.96 L467.85 573.24 L468.35 568.76 L468.85 575.43 L469.35 591.89 L469.85 614.92 L470.05 625.26 Z" fill="#141414"/>
<path d="M479.75 646.32 L480.10 632.68 L480.60 616.20 L481.10 605.65 L481.60 603.07 L482.10 608.99 L482.60 622.22 L483.10 640.25 L483.25 646.32 Z" fill="#141414"/>
<path d="M489.14 708.36 L489.60 703.92 L490.10 699.89 L490.60 697.51 L491.10 697.28 L491.60 699.26 L492.10 703.01 L492.60 707.79 L492.66 708.36 Z" fill="#141414"/>
<path d="M580.75 673.09 L581.10 665.79 L581.60 657.24 L582.10 651.88 L582.60 650.59 L583.10 653.56 L583.60 660.32 L584.10 669.78 L584.26 673.09 Z" fill="#141414"/>
<path d="M597.73 695.40 L598.10 691.13 L598.60 686.36 L599.10 683.37 L599.60 682.65 L600.10 684.30 L600.60 688.06 L601.10 693.36 L601.27 695.40 Z" fill="#141414"/>
<path d="M644.75 471.95 L645.10 441.39 L645.60 405.81 L646.10 383.76 L646.60 378.45 L647.10 390.69 L647.60 418.64 L648.10 458.31 L648.25 471.95 Z" fill="#141414"/>
<path d="M660.95 443.44 L661.35 406.44 L661.85 369.44 L662.35 347.47 L662.85 343.64 L663.35 358.50 L663.85 389.84 L664.35 433.20 L664.45 443.44 Z" fill="#141414"/>
<path d="M670.44 541.48 L670.85 517.63 L671.35 494.29 L671.85 480.42 L672.35 478.06 L672.85 487.59 L673.35 507.68 L673.85 535.60 L673.94 541.48 Z" fill="#141414"/>
<path d="M723.75 675.01 L724.10 669.79 L724.60 663.80 L725.10 660.14 L725.60 659.26 L726.10 661.28 L726.60 665.95 L727.10 672.66 L727.25 675.01 Z" fill="#141414"/>
<path d="M742.05 591.74 L742.35 579.88 L742.85 563.88 L743.35 553.75 L743.85 550.74 L744.35 555.23 L744.85 566.66 L745.35 583.61 L745.55 591.74 Z" fill="#141414"/>
<path d="M756.94 705.47 L757.35 703.28 L757.85 701.19 L758.35 699.96 L758.85 699.75 L759.35 700.58 L759.85 702.35 L760.35 704.85 L760.46 705.47 Z" fill="#141414"/>
<path d="M787.04 713.65 L787.35 712.31 L787.85 710.47 L788.35 709.27 L788.85 708.90 L789.35 709.42 L789.85 710.72 L790.35 712.56 L790.62 713.65 L790.62 713.65 Z" fill="#141414"/>
<path d="M798.55 395.98 L798.85 369.42 L799.35 333.65 L799.85 311.15 L800.35 304.48 L800.85 314.44 L801.35 339.85 L801.85 377.82 L802.05 395.98 Z" fill="#141414"/>
<path d="M814.74 658.17 L815.10 651.82 L815.60 644.88 L816.10 640.67 L816.60 639.67 L817.10 641.98 L817.60 647.35 L818.10 655.16 L818.26 658.17 Z" fill="#141414"/>
<path d="M827.25 543.13 L827.60 526.33 L828.10 507.52 L828.60 496.10 L829.10 493.38 L829.60 499.67 L830.10 514.25 L830.60 535.48 L830.75 543.13 Z" fill="#141414"/>
<path d="M853.15 655.52 L853.60 647.79 L854.10 641.26 L854.60 637.62 L855.10 637.26 L855.60 640.23 L856.10 646.16 L856.60 654.39 L856.66 655.52 Z" fill="#141414"/>
<path d="M916.05 453.71 L916.35 433.18 L916.85 405.47 L917.35 388.10 L917.85 382.96 L918.35 390.63 L918.85 410.25 L919.35 439.70 L919.55 453.71 Z" fill="#141414"/>
<path d="M938.05 695.71 L938.35 693.49 L938.85 690.67 L939.35 689.17 L939.85 689.10 L940.35 690.30 L940.85 692.37 L941.35 694.70 L941.59 695.71 Z" fill="#141414"/>
<path d="M946.14 637.72 L946.60 628.30 L947.10 620.66 L947.60 616.40 L948.10 616.03 L948.60 619.62 L949.10 626.77 L949.60 636.74 L949.64 637.72 Z" fill="#141414"/>
<path d="M968.74 649.12 L969.10 642.49 L969.60 635.27 L970.10 630.91 L970.60 629.87 L971.10 632.27 L971.60 637.84 L972.10 646.01 L972.26 649.12 Z" fill="#141414"/>
<path d="M991.24 673.60 L991.60 669.21 L992.10 664.42 L992.60 661.53 L993.10 660.85 L993.60 662.43 L994.10 666.12 L994.60 671.54 L994.76 673.60 Z" fill="#141414"/>
<path d="M1032.05 570.88 L1032.35 559.86 L1032.85 545.09 L1033.35 535.86 L1033.85 533.13 L1034.35 537.20 L1034.85 547.62 L1035.35 563.32 L1035.55 570.88 Z" fill="#141414"/>
<path d="M1044.45 664.15 L1044.85 658.60 L1045.35 653.31 L1045.85 650.24 L1046.35 649.72 L1046.85 651.80 L1047.35 656.26 L1047.85 662.66 L1047.95 664.15 Z" fill="#141414"/>
<path d="M1061.35 667.80 L1061.60 664.50 L1062.10 659.04 L1062.60 655.52 L1063.10 654.30 L1063.60 655.51 L1064.10 659.03 L1064.60 664.49 L1064.85 667.80 L1064.85 667.80 Z" fill="#141414"/>
<path d="M1113.95 713.86 L1114.35 712.66 L1114.85 711.47 L1115.35 710.75 L1115.85 710.62 L1116.35 711.09 L1116.85 712.08 L1117.35 713.44 L1117.49 713.86 Z" fill="#141414"/>
<path d="M1123.73 709.26 L1124.10 707.80 L1124.60 706.22 L1125.10 705.25 L1125.60 705.01 L1126.10 705.54 L1126.60 706.77 L1127.10 708.54 L1127.28 709.26 Z" fill="#141414"/>
<path d="M1188.25 342.16 L1188.60 312.45 L1189.10 279.44 L1189.60 259.62 L1190.10 254.91 L1190.60 265.80 L1191.10 291.20 L1191.60 328.66 L1191.75 342.16 Z" fill="#141414"/>
<path d="M1206.05 569.78 L1206.35 559.52 L1206.85 545.95 L1207.35 537.52 L1207.85 535.03 L1208.35 538.73 L1208.85 548.26 L1209.35 562.70 L1209.55 569.78 Z" fill="#141414"/>
<path d="M1224.45 388.72 L1224.85 359.75 L1225.35 332.34 L1225.85 316.51 L1226.35 313.81 L1226.85 324.49 L1227.35 347.51 L1227.85 380.70 L1227.95 388.72 Z" fill="#141414"/>
<path d="M1242.66 643.47 L1243.10 635.51 L1243.60 628.67 L1244.10 624.85 L1244.60 624.46 L1245.10 627.52 L1245.60 633.65 L1246.10 642.16 L1246.17 643.47 Z" fill="#141414"/>
<path d="M1253.65 501.40 L1254.10 478.26 L1254.60 459.05 L1255.10 448.38 L1255.60 447.40 L1256.10 456.20 L1256.60 473.87 L1257.10 498.60 L1257.15 501.40 Z" fill="#141414"/>
<path d="M1310.34 610.60 L1310.60 604.58 L1311.10 594.92 L1311.60 588.73 L1312.10 586.60 L1312.60 588.72 L1313.10 594.90 L1313.60 604.55 L1313.86 610.60 L1313.86 610.60 Z" fill="#141414"/>
<path d="M1341.36 548.65 L1341.85 532.05 L1342.35 519.74 L1342.85 513.25 L1343.35 513.17 L1343.85 519.47 L1344.35 531.49 L1344.85 548.05 L1344.87 548.65 Z" fill="#141414"/>
<path d="M1353.75 161.63 L1354.10 124.91 L1354.60 84.56 L1355.10 60.55 L1355.60 54.88 L1356.10 68.05 L1356.60 98.94 L1357.10 145.02 L1357.25 161.63 Z" fill="#141414"/>
<path d="M1394.15 478.30 L1394.60 456.55 L1395.10 438.86 L1395.60 429.13 L1396.10 428.22 L1396.60 436.23 L1397.10 452.42 L1397.60 475.38 L1397.65 478.30 Z" fill="#141414"/>
<path d="M1457.23 679.48 L1457.60 676.55 L1458.10 673.49 L1458.60 671.66 L1459.10 671.23 L1459.60 672.23 L1460.10 674.58 L1460.60 678.07 L1460.77 679.48 Z" fill="#141414"/>
<path d="M1497.44 527.44 L1497.85 512.44 L1498.35 498.48 L1498.85 490.47 L1499.35 489.11 L1499.85 494.51 L1500.35 506.21 L1500.85 523.20 L1500.96 527.44 Z" fill="#141414"/>
<path d="M1570.55 394.55 L1570.85 376.72 L1571.35 353.50 L1571.85 339.23 L1572.35 335.05 L1572.85 341.30 L1573.35 357.47 L1573.85 382.28 L1574.05 394.55 Z" fill="#141414"/>
<path d="M1586.78 603.79 L1587.10 597.29 L1587.60 589.47 L1588.10 584.77 L1588.60 583.54 L1589.10 585.86 L1589.60 591.53 L1590.10 600.07 L1590.28 603.79 Z" fill="#141414"/>
<path d="M1611.94 585.53 L1612.35 576.28 L1612.85 567.94 L1613.35 563.18 L1613.85 562.39 L1614.35 565.64 L1614.85 572.68 L1615.35 583.00 L1615.45 585.53 Z" fill="#141414"/>
<path d="M1646.55 132.83 L1646.85 106.27 L1647.35 71.75 L1647.85 50.71 L1648.35 44.58 L1648.85 53.76 L1649.35 77.63 L1649.85 114.61 L1650.05 132.83 Z" fill="#141414"/>
<path d="M47.85 1393.95 L48.10 1373.63 L48.60 1339.06 L49.10 1316.20 L49.60 1308.20 L50.10 1316.19 L50.60 1339.05 L51.10 1373.61 L51.35 1393.95 L51.35 1393.95 Z" fill="#141414"/>
<path d="M59.55 1548.83 L59.85 1539.85 L60.35 1527.55 L60.85 1519.68 L61.35 1517.33 L61.85 1520.83 L62.35 1529.69 L62.85 1542.71 L63.05 1548.83 Z" fill="#141414"/>
<path d="M72.63 1538.33 L73.10 1526.56 L73.60 1517.83 L74.10 1513.78 L74.60 1514.54 L75.10 1519.51 L75.60 1527.61 L76.10 1537.47 L76.14 1538.33 Z" fill="#141414"/>
<path d="M104.95 1159.94 L105.35 1101.12 L105.85 1043.37 L106.35 1009.29 L106.85 1003.43 L107.35 1026.55 L107.85 1075.57 L108.35 1144.15 L108.45 1159.94 Z" fill="#141414"/>
<path d="M123.05 1627.16 L123.35 1625.46 L123.85 1623.01 L124.35 1621.40 L124.85 1620.91 L125.35 1621.63 L125.85 1623.43 L126.35 1625.98 L126.56 1627.16 Z" fill="#141414"/>
<path d="M136.54 1615.41 L136.85 1612.05 L137.35 1607.41 L137.85 1604.34 L138.35 1603.41 L138.85 1604.79 L139.35 1608.21 L139.85 1613.07 L140.06 1615.41 Z" fill="#141414"/>
<path d="M169.32 1599.68 L169.60 1595.65 L170.10 1589.70 L170.60 1585.94 L171.10 1584.93 L171.60 1586.74 L172.10 1590.96 L172.60 1596.71 L172.84 1599.68 Z" fill="#141414"/>
<path d="M176.36 1599.68 L176.85 1593.69 L177.35 1588.59 L177.85 1585.50 L178.35 1585.07 L178.85 1587.47 L179.35 1592.36 L179.85 1599.05 L179.89 1599.68 Z" fill="#141414"/>
<path d="M201.25 1238.09 L201.60 1198.29 L202.10 1153.04 L202.60 1125.44 L203.10 1118.84 L203.60 1134.08 L204.10 1169.27 L204.60 1220.18 L204.75 1238.09 Z" fill="#141414"/>
<path d="M231.35 1539.65 L231.60 1532.64 L232.10 1521.07 L232.60 1513.52 L233.10 1510.90 L233.60 1513.51 L234.10 1521.04 L234.60 1532.60 L234.86 1539.65 L234.86 1539.65 Z" fill="#141414"/>
<path d="M258.68 1561.85 L259.10 1553.85 L259.60 1546.80 L260.10 1542.95 L260.60 1542.65 L261.10 1545.79 L261.60 1551.87 L262.10 1560.05 L262.20 1561.85 Z" fill="#141414"/>
<path d="M272.44 1088.57 L272.85 1030.47 L273.35 975.20 L273.85 942.98 L274.35 937.61 L274.85 959.79 L275.35 1006.96 L275.85 1073.83 L275.95 1088.57 Z" fill="#141414"/>
<path d="M291.75 1406.23 L292.10 1384.79 L292.60 1360.50 L293.10 1345.76 L293.60 1342.23 L294.10 1350.35 L294.60 1369.15 L295.10 1396.53 L295.25 1406.23 Z" fill="#141414"/>
<path d="M316.35 1421.10 L316.60 1406.69 L317.10 1382.64 L317.60 1367.02 L318.10 1361.60 L318.60 1367.00 L319.10 1382.60 L319.60 1406.62 L319.85 1421.10 L319.85 1421.10 Z" fill="#141414"/>
<path d="M346.25 1415.82 L346.60 1395.48 L347.10 1372.55 L347.60 1358.64 L348.10 1355.32 L348.60 1362.97 L349.10 1380.71 L349.60 1406.56 L349.75 1415.82 Z" fill="#141414"/>
<path d="M365.35 1400.85 L365.60 1385.24 L366.10 1359.29 L366.60 1342.45 L367.10 1336.60 L367.60 1342.42 L368.10 1359.25 L368.60 1385.17 L368.85 1400.85 L368.85 1400.85 Z" fill="#141414"/>
<path d="M383.94 1588.15 L384.35 1583.17 L384.85 1578.44 L385.35 1575.69 L385.85 1575.20 L386.35 1577.05 L386.85 1581.02 L387.35 1586.66 L387.46 1588.15 Z" fill="#141414"/>
<path d="M416.54 1568.16 L416.85 1563.76 L417.35 1558.02 L417.85 1554.46 L418.35 1553.41 L418.85 1554.97 L419.35 1559.00 L419.85 1565.11 L420.06 1568.16 Z" fill="#141414"/>
<path d="M449.26 1155.50 L449.60 1106.12 L450.10 1048.54 L450.60 1013.25 L451.10 1004.75 L451.60 1024.11 L452.10 1068.69 L452.60 1132.64 L452.76 1155.50 Z" fill="#141414"/>
<path d="M457.94 1450.96 L458.35 1429.32 L458.85 1406.91 L459.35 1393.05 L459.85 1390.33 L460.35 1399.34 L460.85 1418.64 L461.35 1445.16 L461.45 1450.96 Z" fill="#141414"/>
<path d="M476.54 1540.63 L476.85 1531.17 L477.35 1518.31 L477.85 1510.08 L478.35 1507.63 L478.85 1511.31 L479.35 1520.61 L479.85 1534.24 L480.05 1540.63 Z" fill="#141414"/>
<path d="M499.25 1103.97 L499.60 1056.52 L500.10 1002.91 L500.60 970.45 L501.10 962.72 L501.60 980.60 L502.10 1022.09 L502.60 1082.64 L502.75 1103.97 Z" fill="#141414"/>
<path d="M536.45 1390.44 L536.85 1365.95 L537.35 1342.33 L537.85 1328.59 L538.35 1326.23 L538.85 1335.53 L539.35 1355.45 L539.85 1383.83 L539.95 1390.44 Z" fill="#141414"/>
<path d="M614.85 1525.95 L615.10 1519.05 L615.60 1507.64 L616.10 1500.26 L616.60 1497.70 L617.10 1500.25 L617.60 1507.63 L618.10 1519.04 L618.35 1525.95 L618.35 1525.95 Z" fill="#141414"/>
<path d="M637.05 1156.46 L637.35 1120.37 L637.85 1071.71 L638.35 1041.23 L638.85 1032.21 L639.35 1045.67 L639.85 1080.12 L640.35 1131.85 L640.55 1156.46 Z" fill="#141414"/>
<path d="M661.30 1548.13 L661.60 1541.95 L662.10 1533.62 L662.60 1528.51 L663.10 1527.13 L663.60 1529.55 L664.10 1535.36 L664.60 1543.76 L664.83 1548.13 Z" fill="#141414"/>
<path d="M705.27 1393.73 L705.60 1374.38 L706.10 1351.11 L706.60 1336.99 L707.10 1333.48 L707.60 1340.87 L708.10 1358.22 L708.60 1383.45 L708.77 1393.73 Z" fill="#141414"/>
<path d="M734.64 1537.77 L735.10 1527.21 L735.60 1518.59 L736.10 1513.80 L736.60 1513.36 L737.10 1517.30 L737.60 1525.21 L738.10 1536.25 L738.16 1537.77 Z" fill="#141414"/>
<path d="M752.74 1624.31 L753.10 1623.16 L753.60 1621.84 L754.10 1621.01 L754.60 1620.81 L755.10 1621.27 L755.60 1622.31 L756.10 1623.78 L756.26 1624.31 Z" fill="#141414"/>
<path d="M765.64 1617.26 L766.10 1614.67 L766.60 1612.47 L767.10 1611.21 L767.60 1611.09 L768.10 1612.13 L768.60 1614.15 L769.10 1616.87 L769.16 1617.26 Z" fill="#141414"/>
<path d="M805.44 1556.47 L805.85 1548.95 L806.35 1541.87 L806.85 1537.76 L807.35 1537.06 L807.85 1539.83 L808.35 1545.79 L808.85 1554.31 L808.96 1556.47 Z" fill="#141414"/>
<path d="M821.34 1544.20 L821.60 1538.61 L822.10 1529.56 L822.60 1523.72 L823.10 1521.70 L823.60 1523.72 L824.10 1529.55 L824.60 1538.59 L824.86 1544.20 L824.86 1544.20 Z" fill="#141414"/>
<path d="M866.59 1578.51 L866.85 1573.20 L867.35 1564.13 L867.85 1560.33 L868.35 1563.16 L868.85 1570.05 L869.35 1576.38 L869.85 1578.51 L869.85 1578.51 Z" fill="#141414"/>
<path d="M871.02 1565.22 L871.35 1559.16 L871.85 1550.62 L872.35 1544.51 L872.85 1542.22 L873.35 1544.42 L873.85 1550.97 L874.35 1561.00 L874.53 1565.22 Z" fill="#141414"/>
<path d="M895.33 1616.85 L895.60 1615.50 L896.10 1613.44 L896.60 1612.08 L897.10 1611.60 L897.60 1612.07 L898.10 1613.42 L898.60 1615.48 L898.88 1616.85 L898.88 1616.85 Z" fill="#141414"/>
<path d="M1039.54 1225.92 L1039.85 1198.35 L1040.35 1163.06 L1040.85 1142.14 L1041.35 1137.42 L1041.85 1148.86 L1042.35 1174.38 L1042.85 1210.13 L1043.05 1225.92 Z" fill="#141414"/>
<path d="M1046.73 1323.52 L1047.10 1304.99 L1047.60 1280.24 L1048.10 1261.59 L1048.60 1253.77 L1049.10 1259.67 L1049.60 1279.87 L1050.10 1312.69 L1050.23 1323.52 Z" fill="#141414"/>
<path d="M1082.22 1393.75 L1082.60 1376.17 L1083.10 1358.96 L1083.60 1349.27 L1084.10 1347.83 L1084.60 1354.58 L1085.10 1368.61 L1085.60 1388.23 L1085.72 1393.75 Z" fill="#141414"/>
<path d="M1091.80 1363.55 L1092.10 1348.43 L1092.60 1328.03 L1093.10 1314.99 L1093.60 1310.80 L1094.10 1316.07 L1094.60 1330.48 L1095.10 1352.84 L1095.30 1363.55 Z" fill="#141414"/>
<path d="M1219.04 1602.41 L1219.35 1600.31 L1219.85 1597.59 L1220.35 1595.90 L1220.85 1595.41 L1221.35 1596.15 L1221.85 1598.06 L1222.35 1600.95 L1222.56 1602.41 Z" fill="#141414"/>
<path d="M1278.14 1611.55 L1278.60 1609.52 L1279.10 1607.87 L1279.60 1606.95 L1280.10 1606.87 L1280.60 1607.62 L1281.10 1609.13 L1281.60 1611.26 L1281.66 1611.55 Z" fill="#141414"/>
<path d="M1304.15 1487.73 L1304.60 1473.48 L1305.10 1461.77 L1305.60 1455.28 L1306.10 1454.68 L1306.60 1460.02 L1307.10 1470.77 L1307.60 1485.89 L1307.65 1487.73 Z" fill="#141414"/>
<path d="M1446.95 1289.98 L1447.35 1260.14 L1447.85 1231.91 L1448.35 1215.61 L1448.85 1212.83 L1449.35 1223.84 L1449.85 1247.56 L1450.35 1281.76 L1450.45 1289.98 Z" fill="#141414"/>
<path d="M1493.45 1612.67 L1493.85 1611.03 L1494.35 1609.48 L1494.85 1608.59 L1495.35 1608.43 L1495.85 1609.04 L1496.35 1610.34 L1496.85 1612.22 L1496.95 1612.67 Z" fill="#141414"/>
<path d="M1637.95 1500.60 L1638.35 1489.63 L1638.85 1479.24 L1639.35 1473.25 L1639.85 1472.23 L1640.35 1476.27 L1640.85 1485.00 L1641.35 1497.60 L1641.45 1500.60 Z" fill="#141414"/>
<line x1="978.0" y1="724.0" x2="973.3" y2="737.4" stroke="#141414" stroke-width="1.6"/>
<line x1="1019.0" y1="683.0" x2="1018.5" y2="713.0" stroke="#141414" stroke-width="1.6"/>
<line x1="1176.5" y1="643.0" x2="1178.0" y2="699.0" stroke="#141414" stroke-width="1.6"/>
<line x1="1624.8" y1="634.3" x2="1601.9" y2="686.4" stroke="#141414" stroke-width="1.6"/>
<line x1="216.8" y1="1585.7" x2="191.7" y2="1621.7" stroke="#141414" stroke-width="1.6"/>
<line x1="247.3" y1="1591.0" x2="242.9" y2="1626.0" stroke="#141414" stroke-width="1.6"/>
<line x1="435.8" y1="1509.5" x2="468.5" y2="1569.4" stroke="#141414" stroke-width="1.6"/>
<line x1="513.1" y1="1505.1" x2="483.7" y2="1524.7" stroke="#141414" stroke-width="1.6"/>
<line x1="869.6" y1="1494.0" x2="865.3" y2="1552.4" stroke="#141414" stroke-width="1.6"/>
<line x1="1130.6" y1="1612.0" x2="1124.0" y2="1625.2" stroke="#141414" stroke-width="1.6"/>
<line x1="433.8" y1="1617.0" x2="434.5" y2="1625.0" stroke="#141414" stroke-width="1.6"/>
<text x="0" y="0" transform="translate(86.18 694.62) rotate(-90)" font-size="24" textLength="52.84" lengthAdjust="spacingAndGlyphs">4 + 10</text>
<text x="0" y="0" transform="translate(166.98 699.77) rotate(-90)" font-size="24" textLength="10.22" lengthAdjust="spacingAndGlyphs">9</text>
<text x="0" y="0" transform="translate(186.68 705.49) rotate(-90)" font-size="24" textLength="10.45" lengthAdjust="spacingAndGlyphs">7</text>
<text x="0" y="0" transform="translate(206.38 674.42) rotate(-90)" font-size="24" textLength="10.22" lengthAdjust="spacingAndGlyphs">6</text>
<text x="0" y="0" transform="translate(227.08 709.09) rotate(-90)" font-size="24" textLength="11.01" lengthAdjust="spacingAndGlyphs">5</text>
<text x="0" y="0" transform="translate(243.98 519.43) rotate(-90)" font-size="24" textLength="12.19" lengthAdjust="spacingAndGlyphs">8</text>
<text x="0" y="0" transform="translate(297.08 692.89) rotate(-90)" font-size="24" textLength="22.13" lengthAdjust="spacingAndGlyphs">19</text>
<text x="0" y="0" transform="translate(388.88 430.16) rotate(-90)" font-size="24" textLength="23.09" lengthAdjust="spacingAndGlyphs">18</text>
<text x="0" y="0" transform="translate(404.48 565.47) rotate(-90)" font-size="24" textLength="64.40" lengthAdjust="spacingAndGlyphs">17 + 11</text>
<text x="0" y="0" transform="translate(429.18 691.46) rotate(-90)" font-size="24" textLength="64.45" lengthAdjust="spacingAndGlyphs">27 + 12</text>
<text x="0" y="0" transform="translate(448.98 710.40) rotate(-90)" font-size="24" textLength="62.95" lengthAdjust="spacingAndGlyphs">13 + 24</text>
<text x="0" y="0" transform="translate(476.88 565.68) rotate(-90)" font-size="24" textLength="21.97" lengthAdjust="spacingAndGlyphs">16</text>
<text x="0" y="0" transform="translate(492.18 599.16) rotate(-90)" font-size="24" textLength="22.52" lengthAdjust="spacingAndGlyphs">32</text>
<text x="0" y="0" transform="translate(505.88 694.00) rotate(-90)" font-size="24" textLength="20.79" lengthAdjust="spacingAndGlyphs">15</text>
<text x="0" y="0" transform="translate(516.18 722.20) rotate(-90)" font-size="24" textLength="20.86" lengthAdjust="spacingAndGlyphs">34</text>
<text x="0" y="0" transform="translate(534.88 722.46) rotate(-90)" font-size="24" textLength="64.62" lengthAdjust="spacingAndGlyphs">23 + 54</text>
<text x="0" y="0" transform="translate(552.48 715.27) rotate(-90)" font-size="24" textLength="21.59" lengthAdjust="spacingAndGlyphs">29</text>
<text x="0" y="0" transform="translate(590.68 645.97) rotate(-90)" font-size="24" textLength="21.54" lengthAdjust="spacingAndGlyphs">26</text>
<text x="0" y="0" transform="translate(606.18 679.96) rotate(-90)" font-size="24" textLength="21.37" lengthAdjust="spacingAndGlyphs">25</text>
<text x="0" y="0" transform="translate(652.08 373.57) rotate(-90)" font-size="24" textLength="64.51" lengthAdjust="spacingAndGlyphs">53 + 31</text>
<text x="0" y="0" transform="translate(672.18 337.16) rotate(-90)" font-size="24" textLength="21.43" lengthAdjust="spacingAndGlyphs">28</text>
<text x="0" y="0" transform="translate(691.88 476.95) rotate(-90)" font-size="24" textLength="149.47" lengthAdjust="spacingAndGlyphs">20 + 51 + 33 + 21</text>
<text x="0" y="0" transform="translate(727.18 654.35) rotate(-90)" font-size="24" textLength="22.19" lengthAdjust="spacingAndGlyphs">45</text>
<text x="0" y="0" transform="translate(752.48 543.68) rotate(-90)" font-size="24" textLength="21.70" lengthAdjust="spacingAndGlyphs">22</text>
<text x="0" y="0" transform="translate(767.68 696.15) rotate(-90)" font-size="24" textLength="22.25" lengthAdjust="spacingAndGlyphs">46</text>
<text x="0" y="0" transform="translate(791.18 705.22) rotate(-90)" font-size="24" textLength="20.86" lengthAdjust="spacingAndGlyphs">43</text>
<text x="0" y="0" transform="translate(808.18 301.82) rotate(-90)" font-size="24" textLength="22.90" lengthAdjust="spacingAndGlyphs">52</text>
<text x="0" y="0" transform="translate(823.88 636.02) rotate(-90)" font-size="24" textLength="20.86" lengthAdjust="spacingAndGlyphs">48</text>
<text x="0" y="0" transform="translate(838.18 488.25) rotate(-90)" font-size="24" textLength="22.19" lengthAdjust="spacingAndGlyphs">49</text>
<text x="0" y="0" transform="translate(863.88 632.05) rotate(-90)" font-size="24" textLength="22.41" lengthAdjust="spacingAndGlyphs">47</text>
<text x="0" y="0" transform="translate(881.38 715.08) rotate(-90)" font-size="24" textLength="22.96" lengthAdjust="spacingAndGlyphs">75</text>
<text x="0" y="0" transform="translate(924.18 378.47) rotate(-90)" font-size="24" textLength="23.09" lengthAdjust="spacingAndGlyphs">44</text>
<text x="0" y="0" transform="translate(941.98 684.64) rotate(-90)" font-size="24" textLength="20.51" lengthAdjust="spacingAndGlyphs">59</text>
<text x="0" y="0" transform="translate(955.18 610.11) rotate(-90)" font-size="24" textLength="20.16" lengthAdjust="spacingAndGlyphs">42</text>
<text x="0" y="0" transform="translate(976.78 624.78) rotate(-90)" font-size="24" textLength="22.80" lengthAdjust="spacingAndGlyphs">71</text>
<text x="0" y="0" transform="translate(1002.18 656.13) rotate(-90)" font-size="24" textLength="21.07" lengthAdjust="spacingAndGlyphs">41</text>
<text x="0" y="0" transform="translate(980.48 760.72) rotate(-90)" font-size="24" textLength="21.33" lengthAdjust="spacingAndGlyphs">35</text>
<text x="0" y="0" transform="translate(1015.28 711.03) rotate(-90)" font-size="24" textLength="19.52" lengthAdjust="spacingAndGlyphs">96</text>
<text x="0" y="0" transform="translate(1026.18 680.56) rotate(-90)" font-size="24" textLength="30.36" lengthAdjust="spacingAndGlyphs">103</text>
<text x="0" y="0" transform="translate(1042.48 529.86) rotate(-90)" font-size="24" textLength="21.44" lengthAdjust="spacingAndGlyphs">64</text>
<text x="0" y="0" transform="translate(1056.58 643.92) rotate(-90)" font-size="24" textLength="20.98" lengthAdjust="spacingAndGlyphs">40</text>
<text x="0" y="0" transform="translate(1073.48 649.76) rotate(-90)" font-size="24" textLength="22.41" lengthAdjust="spacingAndGlyphs">37</text>
<text x="0" y="0" transform="translate(1090.48 713.76) rotate(-90)" font-size="24" textLength="64.33" lengthAdjust="spacingAndGlyphs">57 + 94</text>
<text x="0" y="0" transform="translate(1116.78 706.48) rotate(-90)" font-size="24" textLength="21.70" lengthAdjust="spacingAndGlyphs">67</text>
<text x="0" y="0" transform="translate(1135.58 702.26) rotate(-90)" font-size="24" textLength="32.56" lengthAdjust="spacingAndGlyphs">102</text>
<text x="0" y="0" transform="translate(1172.18 711.17) rotate(-90)" font-size="24" textLength="68.57" lengthAdjust="spacingAndGlyphs">93 + 76</text>
<text x="0" y="0" transform="translate(1182.48 641.72) rotate(-90)" font-size="24" textLength="22.63" lengthAdjust="spacingAndGlyphs">63</text>
<text x="0" y="0" transform="translate(1213.48 528.97) rotate(-90)" font-size="24" textLength="20.52" lengthAdjust="spacingAndGlyphs">74</text>
<text x="0" y="0" transform="translate(1198.98 248.73) rotate(-90)" font-size="24" textLength="65.80" lengthAdjust="spacingAndGlyphs">95 + 88</text>
<text x="0" y="0" transform="translate(1235.78 308.82) rotate(-90)" font-size="24" textLength="23.66" lengthAdjust="spacingAndGlyphs">70</text>
<text x="0" y="0" transform="translate(1262.98 440.70) rotate(-90)" font-size="24" textLength="22.30" lengthAdjust="spacingAndGlyphs">66</text>
<text x="0" y="0" transform="translate(1347.38 172.38) rotate(-90)" font-size="24" textLength="120.01" lengthAdjust="spacingAndGlyphs">56 + 101 + 90</text>
<text x="0" y="0" transform="translate(1404.58 422.93) rotate(-90)" font-size="24" textLength="65.70" lengthAdjust="spacingAndGlyphs">99 + 60</text>
<text x="0" y="0" transform="translate(1346.08 508.63) rotate(-90)" font-size="24" textLength="65.40" lengthAdjust="spacingAndGlyphs">89 + 84</text>
<text x="0" y="0" transform="translate(1250.18 616.11) rotate(-90)" font-size="24" textLength="18.96" lengthAdjust="spacingAndGlyphs">91</text>
<text x="0" y="0" transform="translate(1300.88 712.74) rotate(-90)" font-size="24" textLength="20.52" lengthAdjust="spacingAndGlyphs">55</text>
<text x="0" y="0" transform="translate(1318.78 578.58) rotate(-90)" font-size="24" textLength="20.54" lengthAdjust="spacingAndGlyphs">92</text>
<text x="0" y="0" transform="translate(1451.18 704.23) rotate(-90)" font-size="24" textLength="32.59" lengthAdjust="spacingAndGlyphs">119</text>
<text x="0" y="0" transform="translate(1465.18 665.81) rotate(-90)" font-size="24" textLength="21.27" lengthAdjust="spacingAndGlyphs">83</text>
<text x="0" y="0" transform="translate(1485.98 709.13) rotate(-90)" font-size="24" textLength="76.93" lengthAdjust="spacingAndGlyphs">86 + 125</text>
<text x="0" y="0" transform="translate(1642.88 76.49) rotate(-90)" font-size="24" textLength="33.72" lengthAdjust="spacingAndGlyphs">110</text>
<text x="0" y="0" transform="translate(1581.58 328.93) rotate(-90)" font-size="24" textLength="76.27" lengthAdjust="spacingAndGlyphs">87 + 154</text>
<text x="0" y="0" transform="translate(1505.38 484.26) rotate(-90)" font-size="24" textLength="22.41" lengthAdjust="spacingAndGlyphs">97</text>
<text x="0" y="0" transform="translate(1598.18 578.92) rotate(-90)" font-size="24" textLength="89.44" lengthAdjust="spacingAndGlyphs">136 + 117</text>
<text x="0" y="0" transform="translate(1621.88 558.52) rotate(-90)" font-size="24" textLength="21.43" lengthAdjust="spacingAndGlyphs">85</text>
<text x="0" y="0" transform="translate(1637.68 634.31) rotate(-90)" font-size="24" textLength="34.21" lengthAdjust="spacingAndGlyphs">115</text>
<text x="0" y="0" transform="translate(40.58 1637.71) rotate(-90)" font-size="24" textLength="18.54" lengthAdjust="spacingAndGlyphs">81</text>
<text x="0" y="0" transform="translate(54.98 1304.03) rotate(-90)" font-size="24" textLength="34.13" lengthAdjust="spacingAndGlyphs">151</text>
<text x="0" y="0" transform="translate(71.18 1512.17) rotate(-90)" font-size="24" textLength="32.78" lengthAdjust="spacingAndGlyphs">135</text>
<text x="0" y="0" transform="translate(90.48 1509.96) rotate(-90)" font-size="24" textLength="19.90" lengthAdjust="spacingAndGlyphs">82</text>
<text x="0" y="0" transform="translate(97.58 1545.81) rotate(-90)" font-size="24" textLength="31.45" lengthAdjust="spacingAndGlyphs">144</text>
<text x="0" y="0" transform="translate(101.88 1117.25) rotate(-90)" font-size="24" textLength="129.84" lengthAdjust="spacingAndGlyphs">147 + 149 + 77</text>
<text x="0" y="0" transform="translate(133.48 1615.32) rotate(-90)" font-size="24" textLength="29.33" lengthAdjust="spacingAndGlyphs">139</text>
<text x="0" y="0" transform="translate(150.88 1597.96) rotate(-90)" font-size="24" textLength="30.17" lengthAdjust="spacingAndGlyphs">124</text>
<text x="0" y="0" transform="translate(172.68 1577.31) rotate(-90)" font-size="24" textLength="83.98" lengthAdjust="spacingAndGlyphs">123 + 109</text>
<text x="0" y="0" transform="translate(193.38 1581.71) rotate(-90)" font-size="24" textLength="31.45" lengthAdjust="spacingAndGlyphs">134</text>
<text x="0" y="0" transform="translate(227.18 1582.82) rotate(-90)" font-size="24" textLength="31.65" lengthAdjust="spacingAndGlyphs">133</text>
<text x="0" y="0" transform="translate(211.68 1114.40) rotate(-90)" font-size="24" textLength="87.84" lengthAdjust="spacingAndGlyphs">131 + 118</text>
<text x="0" y="0" transform="translate(241.28 1505.42) rotate(-90)" font-size="24" textLength="31.65" lengthAdjust="spacingAndGlyphs">146</text>
<text x="0" y="0" transform="translate(254.38 1588.18) rotate(-90)" font-size="24" textLength="30.61" lengthAdjust="spacingAndGlyphs">122</text>
<text x="0" y="0" transform="translate(265.18 1538.18) rotate(-90)" font-size="24" textLength="31.46" lengthAdjust="spacingAndGlyphs">114</text>
<text x="0" y="0" transform="translate(282.78 932.29) rotate(-90)" font-size="24" textLength="33.16" lengthAdjust="spacingAndGlyphs">153</text>
<text x="0" y="0" transform="translate(300.68 1336.63) rotate(-90)" font-size="24" textLength="31.80" lengthAdjust="spacingAndGlyphs">132</text>
<text x="0" y="0" transform="translate(326.28 1355.18) rotate(-90)" font-size="24" textLength="32.89" lengthAdjust="spacingAndGlyphs">179</text>
<text x="0" y="0" transform="translate(356.78 1350.78) rotate(-90)" font-size="24" textLength="32.94" lengthAdjust="spacingAndGlyphs">141</text>
<text x="0" y="0" transform="translate(377.68 1330.95) rotate(-90)" font-size="24" textLength="86.76" lengthAdjust="spacingAndGlyphs">176 + 105</text>
<text x="0" y="0" transform="translate(391.68 1572.98) rotate(-90)" font-size="24" textLength="32.99" lengthAdjust="spacingAndGlyphs">137</text>
<text x="0" y="0" transform="translate(411.28 1565.48) rotate(-90)" font-size="24" textLength="32.83" lengthAdjust="spacingAndGlyphs">130</text>
<text x="0" y="0" transform="translate(428.68 1547.91) rotate(-90)" font-size="24" textLength="31.45" lengthAdjust="spacingAndGlyphs">164</text>
<text x="0" y="0" transform="translate(441.78 1607.45) rotate(-90)" font-size="24" textLength="23.47" lengthAdjust="spacingAndGlyphs">178</text>
<text x="0" y="0" transform="translate(438.48 1505.42) rotate(-90)" font-size="24" textLength="31.70" lengthAdjust="spacingAndGlyphs">129</text>
<text x="0" y="0" transform="translate(460.28 1002.19) rotate(-90)" font-size="24" textLength="33.16" lengthAdjust="spacingAndGlyphs">138</text>
<text x="0" y="0" transform="translate(475.58 1380.12) rotate(-90)" font-size="24" textLength="31.65" lengthAdjust="spacingAndGlyphs">163</text>
<text x="0" y="0" transform="translate(486.48 1504.37) rotate(-90)" font-size="24" textLength="30.57" lengthAdjust="spacingAndGlyphs">158</text>
<text x="0" y="0" transform="translate(527.78 1502.17) rotate(-90)" font-size="24" textLength="32.78" lengthAdjust="spacingAndGlyphs">175</text>
<text x="0" y="0" transform="translate(508.78 957.00) rotate(-90)" font-size="24" textLength="33.32" lengthAdjust="spacingAndGlyphs">187</text>
<text x="0" y="0" transform="translate(546.38 1323.58) rotate(-90)" font-size="24" textLength="32.83" lengthAdjust="spacingAndGlyphs">183</text>
<text x="0" y="0" transform="translate(574.68 1624.15) rotate(-90)" font-size="24" textLength="32.29" lengthAdjust="spacingAndGlyphs">166</text>
<text x="0" y="0" transform="translate(601.98 1625.22) rotate(-90)" font-size="24" textLength="31.65" lengthAdjust="spacingAndGlyphs">126</text>
<text x="0" y="0" transform="translate(623.68 1498.82) rotate(-90)" font-size="24" textLength="31.60" lengthAdjust="spacingAndGlyphs">185</text>
<text x="0" y="0" transform="translate(641.18 1026.88) rotate(-90)" font-size="24" textLength="88.46" lengthAdjust="spacingAndGlyphs">128 + 174</text>
<text x="0" y="0" transform="translate(669.48 1522.34) rotate(-90)" font-size="24" textLength="31.29" lengthAdjust="spacingAndGlyphs">202</text>
<text x="0" y="0" transform="translate(686.88 1593.68) rotate(-90)" font-size="24" textLength="32.99" lengthAdjust="spacingAndGlyphs">167</text>
<text x="0" y="0" transform="translate(714.08 1327.88) rotate(-90)" font-size="24" textLength="32.99" lengthAdjust="spacingAndGlyphs">177</text>
<text x="0" y="0" transform="translate(730.48 1547.27) rotate(-90)" font-size="24" textLength="28.91" lengthAdjust="spacingAndGlyphs">201</text>
<text x="0" y="0" transform="translate(743.48 1507.58) rotate(-90)" font-size="24" textLength="32.94" lengthAdjust="spacingAndGlyphs">171</text>
<text x="0" y="0" transform="translate(759.88 1618.52) rotate(-90)" font-size="24" textLength="29.28" lengthAdjust="spacingAndGlyphs">173</text>
<text x="0" y="0" transform="translate(778.38 1611.08) rotate(-90)" font-size="24" textLength="32.99" lengthAdjust="spacingAndGlyphs">197</text>
<text x="0" y="0" transform="translate(814.28 1533.78) rotate(-90)" font-size="24" textLength="32.99" lengthAdjust="spacingAndGlyphs">172</text>
<text x="0" y="0" transform="translate(833.88 1516.27) rotate(-90)" font-size="24" textLength="32.72" lengthAdjust="spacingAndGlyphs">156</text>
<text x="0" y="0" transform="translate(846.98 1600.13) rotate(-90)" font-size="24" textLength="31.80" lengthAdjust="spacingAndGlyphs">157</text>
<text x="0" y="0" transform="translate(849.38 969.53) rotate(-90)" font-size="24" textLength="34.12" lengthAdjust="spacingAndGlyphs">180</text>
<text x="0" y="0" transform="translate(881.88 1492.38) rotate(-90)" font-size="24" textLength="32.83" lengthAdjust="spacingAndGlyphs">193</text>
<text x="0" y="0" transform="translate(889.18 1536.77) rotate(-90)" font-size="24" textLength="32.21" lengthAdjust="spacingAndGlyphs">200</text>
<text x="0" y="0" transform="translate(906.78 1607.00) rotate(-90)" font-size="24" textLength="33.48" lengthAdjust="spacingAndGlyphs">191</text>
<text x="0" y="0" transform="translate(1031.68 1592.95) rotate(-90)" font-size="24" textLength="34.45" lengthAdjust="spacingAndGlyphs">198</text>
<text x="0" y="0" transform="translate(1048.48 1134.18) rotate(-90)" font-size="24" textLength="32.89" lengthAdjust="spacingAndGlyphs">199</text>
<text x="0" y="0" transform="translate(1065.18 1249.97) rotate(-90)" font-size="24" textLength="32.73" lengthAdjust="spacingAndGlyphs">170</text>
<text x="0" y="0" transform="translate(1085.08 1344.50) rotate(-90)" font-size="24" textLength="89.38" lengthAdjust="spacingAndGlyphs">190 + 196</text>
<text x="0" y="0" transform="translate(1106.38 1308.97) rotate(-90)" font-size="24" textLength="32.42" lengthAdjust="spacingAndGlyphs">203</text>
<text x="0" y="0" transform="translate(1139.88 1606.52) rotate(-90)" font-size="24" textLength="174.92" lengthAdjust="spacingAndGlyphs">169 (when present)</text>
<text x="0" y="0" transform="translate(1229.58 1591.78) rotate(-90)" font-size="24" textLength="32.73" lengthAdjust="spacingAndGlyphs">208</text>
<text x="0" y="0" transform="translate(1278.28 1603.13) rotate(-90)" font-size="24" textLength="34.49" lengthAdjust="spacingAndGlyphs">207</text>
<text x="0" y="0" transform="translate(1299.48 1592.38) rotate(-90)" font-size="24" textLength="35.04" lengthAdjust="spacingAndGlyphs">189</text>
<text x="0" y="0" transform="translate(1312.38 1447.79) rotate(-90)" font-size="24" textLength="33.21" lengthAdjust="spacingAndGlyphs">195</text>
<text x="0" y="0" transform="translate(1455.28 1208.53) rotate(-90)" font-size="24" textLength="34.12" lengthAdjust="spacingAndGlyphs">194</text>
<text x="0" y="0" transform="translate(1502.38 1604.78) rotate(-90)" font-size="24" textLength="32.68" lengthAdjust="spacingAndGlyphs">205</text>
<text x="0" y="0" transform="translate(1646.88 1466.68) rotate(-90)" font-size="24" textLength="32.63" lengthAdjust="spacingAndGlyphs">206</text>
<rect x="36.0" y="821.0" width="1643.0" height="3" fill="#141414"/><rect x="36.35" y="822.0" width="2.2" height="11" fill="#141414"/><rect x="137.90" y="822.0" width="2.2" height="20" fill="#141414"/><text x="125.21" y="870.00" font-size="28.0" textLength="26.54" lengthAdjust="spacingAndGlyphs">10</text><rect x="239.45" y="822.0" width="2.2" height="11" fill="#141414"/><rect x="341.00" y="822.0" width="2.2" height="11" fill="#141414"/><text x="328.29" y="870.00" font-size="28.0" textLength="26.88" lengthAdjust="spacingAndGlyphs">12</text><rect x="442.55" y="822.0" width="2.2" height="11" fill="#141414"/><rect x="544.10" y="822.0" width="2.2" height="11" fill="#141414"/><text x="531.43" y="870.00" font-size="28.0" textLength="26.28" lengthAdjust="spacingAndGlyphs">14</text><rect x="645.65" y="822.0" width="2.2" height="11" fill="#141414"/><rect x="747.20" y="822.0" width="2.2" height="11" fill="#141414"/><text x="734.50" y="870.00" font-size="28.0" textLength="26.67" lengthAdjust="spacingAndGlyphs">16</text><rect x="848.75" y="822.0" width="2.2" height="11" fill="#141414"/><rect x="950.30" y="822.0" width="2.2" height="11" fill="#141414"/><text x="937.60" y="870.00" font-size="28.0" textLength="26.67" lengthAdjust="spacingAndGlyphs">18</text><rect x="1051.85" y="822.0" width="2.2" height="11" fill="#141414"/><rect x="1153.40" y="822.0" width="2.2" height="20" fill="#141414"/><text x="1141.34" y="870.00" font-size="28.0" textLength="25.89" lengthAdjust="spacingAndGlyphs">20</text><rect x="1254.95" y="822.0" width="2.2" height="11" fill="#141414"/><rect x="1356.50" y="822.0" width="2.2" height="11" fill="#141414"/><text x="1344.42" y="870.00" font-size="28.0" textLength="26.21" lengthAdjust="spacingAndGlyphs">22</text><rect x="1458.05" y="822.0" width="2.2" height="11" fill="#141414"/><rect x="1559.60" y="822.0" width="2.2" height="11" fill="#141414"/><text x="1547.55" y="870.00" font-size="28.0" textLength="25.64" lengthAdjust="spacingAndGlyphs">24</text><rect x="1661.15" y="822.0" width="2.2" height="11" fill="#141414"/>
<rect x="36.4" y="1744.0" width="1642.1" height="3" fill="#141414"/><rect x="98.80" y="1745.0" width="2.2" height="11" fill="#141414"/><text x="88.93" y="1793.00" font-size="28.0" textLength="26.02" lengthAdjust="spacingAndGlyphs">26</text><rect x="172.17" y="1745.0" width="2.2" height="11" fill="#141414"/><rect x="245.54" y="1745.0" width="2.2" height="11" fill="#141414"/><text x="235.67" y="1793.00" font-size="28.0" textLength="26.02" lengthAdjust="spacingAndGlyphs">28</text><rect x="318.91" y="1745.0" width="2.2" height="11" fill="#141414"/><rect x="392.28" y="1745.0" width="2.2" height="20" fill="#141414"/><text x="382.72" y="1793.00" font-size="28.0" textLength="25.58" lengthAdjust="spacingAndGlyphs">30</text><rect x="465.65" y="1745.0" width="2.2" height="11" fill="#141414"/><rect x="539.02" y="1745.0" width="2.2" height="11" fill="#141414"/><text x="529.45" y="1793.00" font-size="28.0" textLength="25.89" lengthAdjust="spacingAndGlyphs">32</text><rect x="612.39" y="1745.0" width="2.2" height="11" fill="#141414"/><rect x="685.76" y="1745.0" width="2.2" height="11" fill="#141414"/><text x="676.21" y="1793.00" font-size="28.0" textLength="25.33" lengthAdjust="spacingAndGlyphs">34</text><rect x="759.13" y="1745.0" width="2.2" height="11" fill="#141414"/><rect x="832.50" y="1745.0" width="2.2" height="11" fill="#141414"/><text x="822.93" y="1793.00" font-size="28.0" textLength="25.70" lengthAdjust="spacingAndGlyphs">36</text><rect x="905.87" y="1745.0" width="2.2" height="11" fill="#141414"/><rect x="979.24" y="1745.0" width="2.2" height="11" fill="#141414"/><text x="969.67" y="1793.00" font-size="28.0" textLength="25.70" lengthAdjust="spacingAndGlyphs">38</text><rect x="1052.61" y="1745.0" width="2.2" height="11" fill="#141414"/><rect x="1125.98" y="1745.0" width="2.2" height="20" fill="#141414"/><text x="1116.77" y="1793.00" font-size="28.0" textLength="25.21" lengthAdjust="spacingAndGlyphs">40</text><rect x="1199.35" y="1745.0" width="2.2" height="11" fill="#141414"/><rect x="1272.72" y="1745.0" width="2.2" height="11" fill="#141414"/><text x="1263.50" y="1793.00" font-size="28.0" textLength="25.52" lengthAdjust="spacingAndGlyphs">42</text><rect x="1346.09" y="1745.0" width="2.2" height="11" fill="#141414"/><rect x="1419.46" y="1745.0" width="2.2" height="11" fill="#141414"/><text x="1410.25" y="1793.00" font-size="28.0" textLength="24.98" lengthAdjust="spacingAndGlyphs">44</text><rect x="1492.83" y="1745.0" width="2.2" height="11" fill="#141414"/><rect x="1566.20" y="1745.0" width="2.2" height="11" fill="#141414"/><text x="1556.99" y="1793.00" font-size="28.0" textLength="25.33" lengthAdjust="spacingAndGlyphs">46</text><rect x="1639.57" y="1745.0" width="2.2" height="11" fill="#141414"/>
<text x="792.87" y="905.80" font-size="26.5" textLength="111.20" lengthAdjust="spacingAndGlyphs">Time (min)</text>
<text x="791.66" y="1827.80" font-size="26.5" textLength="113.04" lengthAdjust="spacingAndGlyphs">Time (min)</text>
<path d="M51.7 400.2 L65.8 386.1 L73.8 386.1 L64.9 396.9 L93.1 396.9 L93.1 404.0 L64.9 404.0 L73.8 414.8 L66.3 414.8 Z" fill="#141414"/>
<text x="48.19" y="450.50" font-size="23.0" textLength="125.63" lengthAdjust="spacingAndGlyphs">PCB#1 (7.83)</text>
<text x="48.19" y="480.80" font-size="23.0" textLength="125.63" lengthAdjust="spacingAndGlyphs">PCB#2 (8.32)</text>
<text x="48.19" y="510.60" font-size="23.0" textLength="125.63" lengthAdjust="spacingAndGlyphs">PCB#3 (9.14)</text>
<path d="M1676.7 1357 L1662.6 1342.4 L1654.6 1342.4 L1663.5 1353.4 L1635.5 1353.4 L1635.5 1360.6 L1663.5 1360.6 L1654.6 1371.6 L1662.6 1371.6 Z" fill="#141414"/>
<text x="1518.49" y="1394.30" font-size="23.0" textLength="160.51" lengthAdjust="spacingAndGlyphs">PCB#209 (48.96)</text>
</svg></body></html>
